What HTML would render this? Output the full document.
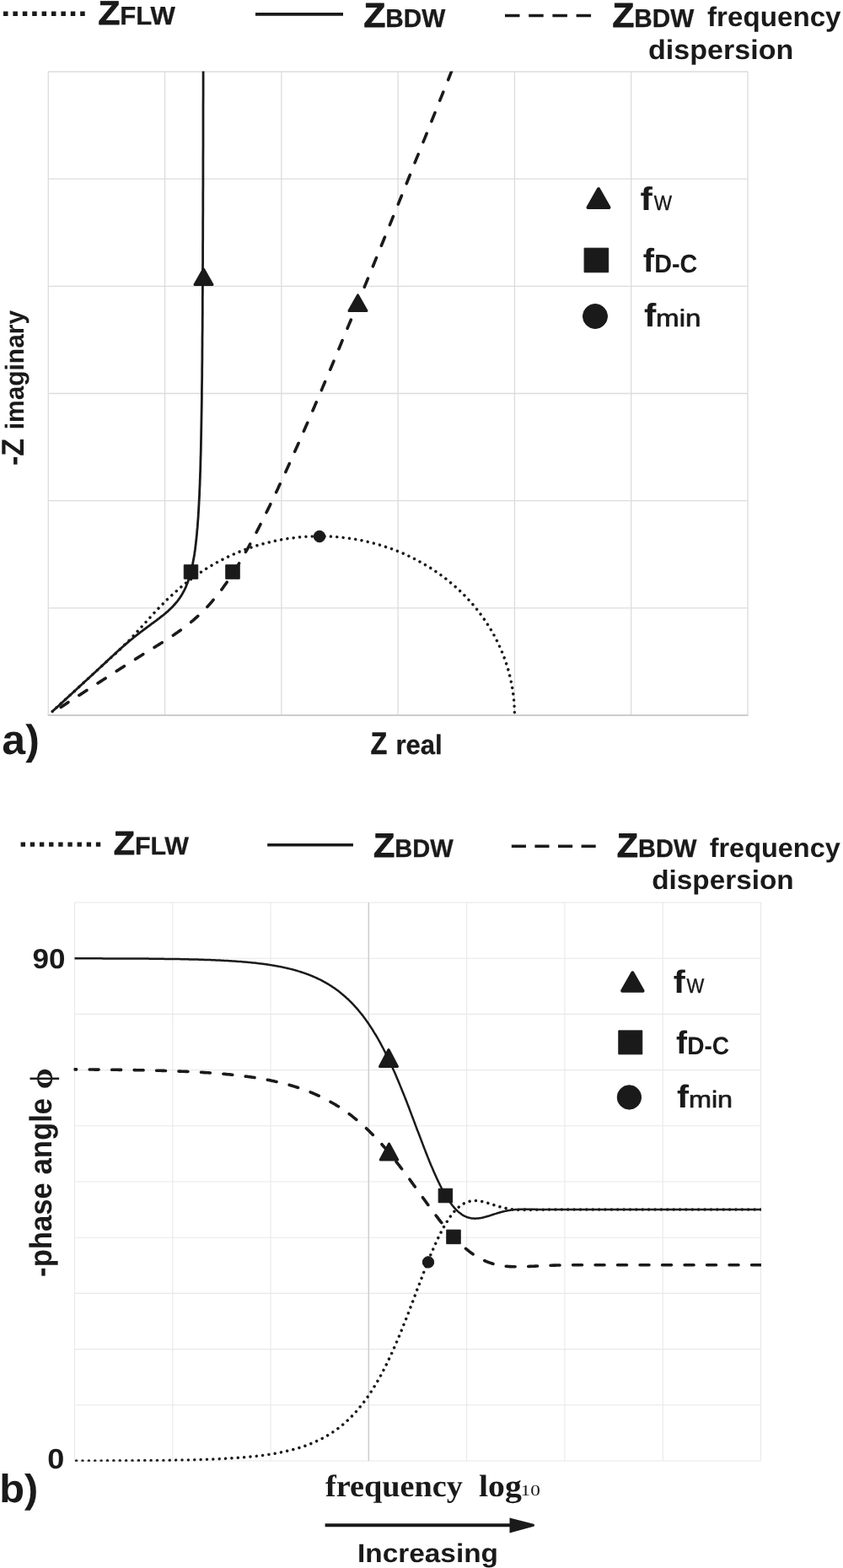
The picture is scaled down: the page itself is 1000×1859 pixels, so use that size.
<!DOCTYPE html>
<html><head><meta charset="utf-8"><title>Warburg impedance figure</title>
<style>
html,body{margin:0;padding:0;background:#fff;}
svg{display:block;}
text{font-family:"Liberation Sans",sans-serif;fill:#1a1a1a;text-rendering:geometricPrecision;}
.b{font-weight:bold;}
.s{font-family:"Liberation Serif",serif;}
.g{stroke:#dcdcdc;stroke-width:1.3;fill:none;}
.g2{stroke:#e8e8e8;stroke-width:1.1;fill:none;}
.sol{stroke:#1a1a1a;stroke-width:2.8;fill:none;stroke-linejoin:round;}
.das{stroke:#1a1a1a;stroke-width:3.6;fill:none;stroke-linecap:round;stroke-dasharray:10.9 15.6;stroke-linejoin:round;}
.dot{stroke:#1a1a1a;stroke-width:3.5;fill:none;stroke-linecap:round;stroke-dasharray:0.01 7.37;stroke-linejoin:round;}
.m{fill:#1a1a1a;stroke:#1a1a1a;stroke-linejoin:round;}
</style></head><body>
<svg width="1000" height="1859" viewBox="0 0 1000 1859">
<rect width="1000" height="1859" fill="#fff"/>
<defs>
<clipPath id="ca"><rect x="55.25" y="84.50" width="833.75" height="766.00"/></clipPath>
<clipPath id="cb"><rect x="87.50" y="1070.00" width="815.50" height="662.80"/></clipPath>
</defs>
<line x1="4" y1="16.25" x2="101" y2="16.25" stroke="#1a1a1a" stroke-width="5.4" stroke-dasharray="5.5 5.9"/>
<text class="b" x="116.64" y="28.80" font-size="40.14" textLength="25.85" lengthAdjust="spacingAndGlyphs" stroke="#1a1a1a" stroke-width="0.90" stroke-linejoin="round">Z</text>
<text class="b" x="142.28" y="28.80" font-size="30.36" textLength="65.58" lengthAdjust="spacingAndGlyphs" stroke="#1a1a1a" stroke-width="0.30" stroke-linejoin="round">FLW</text>
<line x1="303" y1="16.8" x2="407" y2="16.8" stroke="#1a1a1a" stroke-width="3.8"/>
<text class="b" x="431.64" y="31.70" font-size="40.87" textLength="25.85" lengthAdjust="spacingAndGlyphs" stroke="#1a1a1a" stroke-width="0.90" stroke-linejoin="round">Z</text>
<text class="b" x="457.37" y="31.70" font-size="30.43" textLength="71.00" lengthAdjust="spacingAndGlyphs" stroke="#1a1a1a" stroke-width="0.30" stroke-linejoin="round">BDW</text>
<line x1="599" y1="18.4" x2="702" y2="18.4" stroke="#1a1a1a" stroke-width="3.5" stroke-dasharray="17.5 10.7"/>
<text class="b" x="726.64" y="31.70" font-size="40.87" textLength="25.85" lengthAdjust="spacingAndGlyphs" stroke="#1a1a1a" stroke-width="0.90" stroke-linejoin="round">Z</text>
<text class="b" x="752.37" y="31.70" font-size="30.43" textLength="71.00" lengthAdjust="spacingAndGlyphs" stroke="#1a1a1a" stroke-width="0.30" stroke-linejoin="round">BDW</text>
<text class="b" x="839.00" y="31.47" font-size="32.51" textLength="158.54" lengthAdjust="spacingAndGlyphs">frequency</text>
<text class="b" x="769.04" y="70.22" font-size="32.30" textLength="172.23" lengthAdjust="spacingAndGlyphs">dispersion</text>
<line class="g" x1="57.25" y1="85.00" x2="57.25" y2="848.00"/>
<line class="g" x1="195.54" y1="85.00" x2="195.54" y2="848.00"/>
<line class="g" x1="333.83" y1="85.00" x2="333.83" y2="848.00"/>
<line class="g" x1="472.12" y1="85.00" x2="472.12" y2="848.00"/>
<line class="g" x1="610.42" y1="85.00" x2="610.42" y2="848.00"/>
<line class="g" x1="748.71" y1="85.00" x2="748.71" y2="848.00"/>
<line class="g" x1="887.00" y1="85.00" x2="887.00" y2="848.00"/>
<line class="g" x1="57.25" y1="85.00" x2="887.00" y2="85.00"/>
<line class="g" x1="57.25" y1="212.17" x2="887.00" y2="212.17"/>
<line class="g" x1="57.25" y1="339.33" x2="887.00" y2="339.33"/>
<line class="g" x1="57.25" y1="466.50" x2="887.00" y2="466.50"/>
<line class="g" x1="57.25" y1="593.67" x2="887.00" y2="593.67"/>
<line class="g" x1="57.25" y1="720.83" x2="887.00" y2="720.83"/>
<line x1="56.65" y1="848.00" x2="887.60" y2="848.00" stroke="#cdcdcd" stroke-width="1.8"/>
<g clip-path="url(#ca)">
<path class="dot" d="M62.1,843.5 L62.2,843.5 L62.2,843.4 L62.3,843.4 L62.3,843.4 L62.3,843.3 L62.4,843.3 L62.4,843.2 L62.5,843.2 L62.5,843.1 L62.6,843.1 L62.6,843.1 L62.7,843.0 L62.7,843.0 L62.8,842.9 L62.8,842.9 L62.9,842.8 L62.9,842.8 L63.0,842.7 L63.0,842.7 L63.1,842.6 L63.1,842.6 L63.2,842.5 L63.2,842.5 L63.3,842.4 L63.3,842.4 L63.4,842.3 L63.5,842.3 L63.5,842.2 L63.6,842.2 L63.6,842.1 L63.7,842.1 L63.7,842.0 L63.8,842.0 L63.9,841.9 L63.9,841.9 L64.0,841.8 L64.0,841.8 L64.1,841.7 L64.2,841.6 L64.2,841.6 L64.3,841.5 L64.4,841.5 L64.4,841.4 L64.5,841.3 L64.5,841.3 L64.6,841.2 L64.7,841.2 L64.7,841.1 L64.8,841.0 L64.9,841.0 L65.0,840.9 L65.0,840.9 L65.1,840.8 L65.2,840.7 L65.2,840.7 L65.3,840.6 L65.4,840.5 L65.5,840.5 L65.5,840.4 L65.6,840.3 L65.7,840.3 L65.8,840.2 L65.8,840.1 L65.9,840.0 L66.0,840.0 L66.1,839.9 L66.1,839.8 L66.2,839.7 L66.3,839.7 L66.4,839.6 L66.5,839.5 L66.6,839.4 L66.6,839.4 L66.7,839.3 L66.8,839.2 L66.9,839.1 L67.0,839.1 L67.1,839.0 L67.2,838.9 L67.2,838.8 L67.3,838.7 L67.4,838.6 L67.5,838.6 L67.6,838.5 L67.7,838.4 L67.8,838.3 L67.9,838.2 L68.0,838.1 L68.1,838.0 L68.2,837.9 L68.3,837.9 L68.4,837.8 L68.5,837.7 L68.6,837.6 L68.7,837.5 L68.8,837.4 L68.9,837.3 L69.0,837.2 L69.1,837.1 L69.2,837.0 L69.3,836.9 L69.4,836.8 L69.5,836.7 L69.7,836.6 L69.8,836.5 L69.9,836.4 L70.0,836.3 L70.1,836.2 L70.2,836.1 L70.3,836.0 L70.5,835.9 L70.6,835.7 L70.7,835.6 L70.8,835.5 L70.9,835.4 L71.1,835.3 L71.2,835.2 L71.3,835.1 L71.4,834.9 L71.6,834.8 L71.7,834.7 L71.8,834.6 L72.0,834.5 L72.1,834.4 L72.2,834.2 L72.4,834.1 L72.5,834.0 L72.6,833.9 L72.8,833.7 L72.9,833.6 L73.1,833.5 L73.2,833.3 L73.3,833.2 L73.5,833.1 L73.6,832.9 L73.8,832.8 L73.9,832.7 L74.1,832.5 L74.2,832.4 L74.4,832.2 L74.5,832.1 L74.7,832.0 L74.9,831.8 L75.0,831.7 L75.2,831.5 L75.3,831.4 L75.5,831.2 L75.7,831.1 L75.8,830.9 L76.0,830.8 L76.2,830.6 L76.3,830.4 L76.5,830.3 L76.7,830.1 L76.9,830.0 L77.0,829.8 L77.2,829.6 L77.4,829.5 L77.6,829.3 L77.8,829.1 L77.9,829.0 L78.1,828.8 L78.3,828.6 L78.5,828.4 L78.7,828.3 L78.9,828.1 L79.1,827.9 L79.3,827.7 L79.5,827.5 L79.7,827.4 L79.9,827.2 L80.1,827.0 L80.3,826.8 L80.5,826.6 L80.7,826.4 L80.9,826.2 L81.1,826.0 L81.4,825.8 L81.6,825.6 L81.8,825.4 L82.0,825.2 L82.2,825.0 L82.5,824.8 L82.7,824.6 L82.9,824.4 L83.2,824.2 L83.4,824.0 L83.6,823.7 L83.9,823.5 L84.1,823.3 L84.4,823.1 L84.6,822.9 L84.8,822.6 L85.1,822.4 L85.3,822.2 L85.6,821.9 L85.9,821.7 L86.1,821.5 L86.4,821.2 L86.6,821.0 L86.9,820.7 L87.2,820.5 L87.4,820.2 L87.7,820.0 L88.0,819.7 L88.3,819.5 L88.5,819.2 L88.8,819.0 L89.1,818.7 L89.4,818.4 L89.7,818.2 L90.0,817.9 L90.3,817.6 L90.6,817.4 L90.9,817.1 L91.2,816.8 L91.5,816.5 L91.8,816.2 L92.1,815.9 L92.4,815.7 L92.7,815.4 L93.1,815.1 L93.4,814.8 L93.7,814.5 L94.0,814.2 L94.4,813.9 L94.7,813.6 L95.0,813.2 L95.4,812.9 L95.7,812.6 L96.1,812.3 L96.4,812.0 L96.8,811.6 L97.1,811.3 L97.5,811.0 L97.9,810.7 L98.2,810.3 L98.6,810.0 L99.0,809.6 L99.3,809.3 L99.7,808.9 L100.1,808.6 L100.5,808.2 L100.9,807.9 L101.3,807.5 L101.7,807.1 L102.1,806.8 L102.5,806.4 L102.9,806.0 L103.3,805.6 L103.7,805.3 L104.1,804.9 L104.6,804.5 L105.0,804.1 L105.4,803.7 L105.9,803.3 L106.3,802.9 L106.7,802.5 L107.2,802.1 L107.6,801.7 L108.1,801.2 L108.6,800.8 L109.0,800.4 L109.5,800.0 L110.0,799.5 L110.4,799.1 L110.9,798.7 L111.4,798.2 L111.9,797.8 L112.4,797.3 L112.9,796.8 L113.4,796.4 L113.9,795.9 L114.4,795.4 L114.9,795.0 L115.4,794.5 L116.0,794.0 L116.5,793.5 L117.0,793.0 L117.6,792.5 L118.1,792.0 L118.7,791.5 L119.2,791.0 L119.8,790.5 L120.4,790.0 L120.9,789.5 L121.5,788.9 L122.1,788.4 L122.7,787.9 L123.3,787.3 L123.9,786.8 L124.5,786.2 L125.1,785.7 L125.7,785.1 L126.3,784.6 L126.9,784.0 L127.6,783.4 L128.2,782.9 L128.8,782.3 L129.5,781.7 L130.1,781.1 L130.8,780.5 L131.5,779.9 L132.1,779.3 L132.8,778.7 L133.5,778.1 L134.1,777.5 L134.8,776.8 L135.5,776.2 L136.2,775.6 L136.9,774.9 L137.6,774.3 L138.3,773.6 L139.0,773.0 L139.7,772.3 L140.5,771.6 L141.2,770.9 L141.9,770.2 L142.7,769.5 L143.4,768.8 L144.1,768.1 L144.9,767.4 L145.6,766.7 L146.4,765.9 L147.2,765.2 L147.9,764.4 L148.7,763.7 L149.5,762.9 L150.3,762.1 L151.1,761.3 L151.8,760.5 L152.6,759.7 L153.5,758.9 L154.3,758.0 L155.1,757.2 L155.9,756.3 L156.7,755.4 L157.6,754.6 L158.4,753.6 L159.3,752.7 L160.2,751.8 L161.0,750.8 L161.9,749.9 L162.8,748.9 L163.7,747.9 L164.6,746.9 L165.5,745.9 L166.5,744.8 L167.4,743.8 L168.4,742.7 L169.4,741.6 L170.4,740.5 L171.4,739.4 L172.4,738.3 L173.4,737.1 L174.5,735.9 L175.6,734.7 L176.7,733.5 L177.8,732.3 L178.9,731.0 L180.1,729.8 L181.2,728.5 L182.4,727.2 L183.7,725.9 L184.9,724.5 L186.2,723.2 L187.5,721.8 L188.8,720.4 L190.2,719.0 L191.5,717.6 L193.0,716.2 L194.4,714.7 L195.9,713.2 L197.4,711.7 L198.9,710.2 L200.5,708.7 L202.1,707.2 L203.8,705.7 L205.5,704.1 L207.2,702.5 L209.0,701.0 L210.8,699.4 L212.6,697.8 L214.5,696.2 L216.5,694.6 L218.5,692.9 L220.5,691.3 L222.6,689.7 L224.7,688.1 L226.9,686.4 L229.1,684.8 L231.3,683.1 L233.7,681.5 L236.0,679.9 L238.4,678.3 L240.9,676.6 L243.4,675.0 L246.0,673.4 L248.6,671.8 L251.3,670.2 L254.0,668.7 L256.8,667.1 L259.7,665.6 L262.6,664.1 L265.5,662.6 L268.5,661.1 L271.5,659.6 L274.6,658.2 L277.8,656.8 L281.0,655.4 L284.3,654.1 L287.6,652.8 L290.9,651.5 L294.3,650.3 L297.8,649.1 L301.3,648.0 L304.8,646.8 L308.4,645.8 L312.0,644.8 L315.7,643.8 L319.4,642.9 L323.1,642.0 L326.9,641.2 L330.7,640.4 L334.6,639.7 L338.4,639.0 L342.3,638.4 L346.3,637.9 L350.2,637.4 L354.2,637.0 L358.2,636.6 L362.2,636.3 L366.2,636.1 L370.2,635.9 L374.3,635.8 L378.3,635.8 L382.4,635.8 L386.4,635.9 L390.5,636.0 L394.5,636.2 L398.6,636.5 L402.6,636.9 L406.6,637.3 L410.6,637.8 L414.6,638.3 L418.6,638.9 L422.5,639.5 L426.5,640.3 L430.4,641.0 L434.2,641.9 L438.1,642.8 L441.9,643.7 L445.6,644.7 L449.4,645.8 L453.1,646.9 L456.7,648.1 L460.4,649.3 L463.9,650.5 L467.5,651.9 L470.9,653.2 L474.4,654.6 L477.8,656.0 L481.1,657.5 L484.4,659.0 L487.6,660.6 L490.8,662.1 L493.9,663.7 L497.0,665.4 L500.0,667.1 L503.0,668.8 L505.9,670.5 L508.8,672.2 L511.6,674.0 L514.3,675.8 L517.0,677.6 L519.6,679.4 L522.2,681.2 L524.7,683.1 L527.2,684.9 L529.6,686.8 L532.0,688.7 L534.3,690.6 L536.5,692.5 L538.7,694.4 L540.9,696.2 L542.9,698.1 L545.0,700.0 L547.0,701.9 L548.9,703.8 L550.8,705.7 L552.6,707.6 L554.4,709.5 L556.1,711.4 L557.8,713.2 L559.5,715.1 L561.1,716.9 L562.6,718.8 L564.2,720.6 L565.6,722.4 L567.1,724.2 L568.4,726.0 L569.8,727.8 L571.1,729.6 L572.4,731.3 L573.6,733.1 L574.8,734.8 L576.0,736.5 L577.1,738.2 L578.2,739.9 L579.2,741.5 L580.3,743.2 L581.3,744.8 L582.2,746.4 L583.2,748.0 L584.1,749.6 L584.9,751.1 L585.8,752.7 L586.6,754.2 L587.4,755.7 L588.2,757.2 L588.9,758.6 L589.7,760.1 L590.4,761.5 L591.0,762.9 L591.7,764.3 L592.3,765.7 L592.9,767.0 L593.5,768.4 L594.1,769.7 L594.7,771.0 L595.2,772.3 L595.7,773.5 L596.2,774.8 L596.7,776.0 L597.2,777.2 L597.6,778.4 L598.1,779.6 L598.5,780.7 L598.9,781.9 L599.3,783.0 L599.7,784.1 L600.1,785.2 L600.4,786.2 L600.8,787.3 L601.1,788.3 L601.4,789.4 L601.7,790.4 L602.0,791.3 L602.3,792.3 L602.6,793.3 L602.9,794.2 L603.1,795.1 L603.4,796.1 L603.6,797.0 L603.9,797.8 L604.1,798.7 L604.3,799.6 L604.5,800.4 L604.7,801.2 L604.9,802.0 L605.1,802.8 L605.3,803.6 L605.5,804.4 L605.7,805.2 L605.8,805.9 L606.0,806.6 L606.1,807.4 L606.3,808.1 L606.4,808.8 L606.6,809.5 L606.7,810.1 L606.8,810.8 L607.0,811.5 L607.1,812.1 L607.2,812.7 L607.3,813.3 L607.4,814.0 L607.5,814.6 L607.6,815.1 L607.7,815.7 L607.8,816.3 L607.9,816.8 L608.0,817.4 L608.1,817.9 L608.2,818.5 L608.2,819.0 L608.3,819.5 L608.4,820.0 L608.5,820.5 L608.5,821.0 L608.6,821.5 L608.7,821.9 L608.7,822.4 L608.8,822.8 L608.8,823.3 L608.9,823.7 L609.0,824.2 L609.0,824.6 L609.1,825.0 L609.1,825.4 L609.1,825.8 L609.2,826.2 L609.2,826.6 L609.3,827.0 L609.3,827.3 L609.4,827.7 L609.4,828.1 L609.4,828.4 L609.5,828.8 L609.5,829.1 L609.5,829.4 L609.6,829.8 L609.6,830.1 L609.6,830.4 L609.6,830.7 L609.7,831.0 L609.7,831.3 L609.7,831.6 L609.8,831.9 L609.8,832.2 L609.8,832.5 L609.8,832.8 L609.8,833.0 L609.9,833.3 L609.9,833.6 L609.9,833.8 L609.9,834.1 L609.9,834.3 L610.0,834.6 L610.0,834.8 L610.0,835.0 L610.0,835.3 L610.0,835.5 L610.0,835.7 L610.0,835.9 L610.1,836.1 L610.1,836.4 L610.1,836.6 L610.1,836.8 L610.1,837.0 L610.1,837.2 L610.1,837.4 L610.1,837.5 L610.1,837.7 L610.2,837.9 L610.2,838.1 L610.2,838.3 L610.2,838.4 L610.2,838.6 L610.2,838.8 L610.2,838.9 L610.2,839.1 L610.2,839.3 L610.2,839.4 L610.2,839.6 L610.2,839.7 L610.2,839.9 L610.3,840.0 L610.3,840.2 L610.3,840.3 L610.3,840.4 L610.3,840.6 L610.3,840.7 L610.3,840.8 L610.3,841.0 L610.3,841.1 L610.3,841.2 L610.3,841.3 L610.3,841.4 L610.3,841.6 L610.3,841.7 L610.3,841.8 L610.3,841.9 L610.3,842.0 L610.3,842.1 L610.3,842.2 L610.3,842.3 L610.3,842.4 L610.3,842.5 L610.3,842.6 L610.3,842.7 L610.3,842.8 L610.3,842.9 L610.4,843.0 L610.4,843.1 L610.4,843.2 L610.4,843.3 L610.4,843.3 L610.4,843.4 L610.4,843.5 L610.4,843.6 L610.4,843.7 L610.4,843.7 L610.4,843.8 L610.4,843.9 L610.4,844.0 L610.4,844.0 L610.4,844.1 L610.4,844.2 L610.4,844.2 L610.4,844.3 L610.4,844.4 L610.4,844.4 L610.4,844.5 L610.4,844.6 L610.4,844.6 L610.4,844.7 L610.4,844.7 L610.4,844.8 L610.4,844.9 L610.4,844.9 L610.4,845.0 L610.4,845.0 L610.4,845.1 L610.4,845.1 L610.4,845.2 L610.4,845.2 L610.4,845.3 L610.4,845.3 L610.4,845.4 L610.4,845.4 L610.4,845.5 L610.4,845.5 L610.4,845.6 L610.4,845.6 L610.4,845.6 L610.4,845.7 L610.4,845.7 L610.4,845.8 L610.4,845.8 L610.4,845.8 L610.4,845.9 L610.4,845.9 L610.4,846.0 L610.4,846.0 L610.4,846.0 L610.4,846.1 L610.4,846.1 L610.4,846.1 L610.4,846.2 L610.4,846.2 L610.4,846.2 L610.4,846.3 L610.4,846.3 L610.4,846.3 L610.4,846.4 L610.4,846.4 L610.4,846.4 L610.4,846.4 L610.4,846.5 L610.4,846.5 L610.4,846.5 L610.4,846.6 L610.4,846.6 L610.4,846.6 L610.4,846.6 L610.4,846.7 L610.4,846.7 L610.4,846.7 L610.4,846.7 L610.4,846.7 L610.4,846.8 L610.4,846.8 L610.4,846.8 L610.4,846.8 L610.4,846.9 L610.4,846.9 L610.4,846.9 L610.4,846.9 L610.4,846.9 L610.4,847.0 L610.4,847.0 L610.4,847.0 L610.4,847.0 L610.4,847.0 L610.4,847.0 L610.4,847.1 L610.4,847.1 L610.4,847.1 L610.4,847.1 L610.4,847.1 L610.4,847.1 L610.4,847.2 L610.4,847.2 L610.4,847.2 L610.4,847.2 L610.4,847.2 L610.4,847.2 L610.4,847.2 L610.4,847.3 L610.4,847.3 L610.4,847.3 L610.4,847.3 L610.4,847.3 L610.4,847.3 L610.4,847.3 L610.4,847.3 L610.4,847.4 L610.4,847.4 L610.4,847.4 L610.4,847.4 L610.4,847.4 L610.4,847.4 L610.4,847.4 L610.4,847.4 L610.4,847.4 L610.4,847.5 L610.4,847.5 L610.4,847.5 L610.4,847.5 L610.4,847.5 L610.4,847.5 L610.4,847.5 L610.4,847.5 L610.4,847.5 L610.4,847.5 L610.4,847.5 L610.4,847.5 L610.4,847.6 L610.4,847.6 L610.4,847.6 L610.4,847.6 L610.4,847.6 L610.4,847.6 L610.4,847.6 L610.4,847.6 L610.4,847.6 L610.4,847.6 L610.4,847.6 L610.4,847.6 L610.4,847.6 L610.4,847.6 L610.4,847.7 L610.4,847.7 L610.4,847.7 L610.4,847.7 L610.4,847.7 L610.4,847.7 L610.4,847.7 L610.4,847.7 L610.4,847.7 L610.4,847.7 L610.4,847.7 L610.4,847.7 L610.4,847.7 L610.4,847.7 L610.4,847.7 L610.4,847.7 L610.4,847.7 L610.4,847.7 L610.4,847.8 L610.4,847.8 L610.4,847.8 L610.4,847.8 L610.4,847.8 L610.4,847.8 L610.4,847.8 L610.4,847.8 L610.4,847.8 L610.4,847.8 L610.4,847.8 L610.4,847.8 L610.4,847.8 L610.4,847.8 L610.4,847.8 L610.4,847.8 L610.4,847.8 L610.4,847.8 L610.4,847.8 L610.4,847.8 L610.4,847.8 L610.4,847.8 L610.4,847.8 L610.4,847.8 L610.4,847.8 L610.4,847.8 L610.4,847.8 L610.4,847.8 L610.4,847.8 L610.4,847.9 L610.4,847.9 L610.4,847.9 L610.4,847.9 L610.4,847.9 L610.4,847.9 L610.4,847.9 L610.4,847.9 L610.4,847.9 L610.4,847.9 L610.4,847.9 L610.4,847.9 L610.4,847.9 L610.4,847.9 L610.4,847.9 L610.4,847.9 L610.4,847.9 L610.4,847.9 L610.4,847.9 L610.4,847.9"/>
<path class="das" d="M72.1,838.4 L72.2,838.4 L72.3,838.3 L72.4,838.2 L72.5,838.2 L72.6,838.1 L72.7,838.0 L72.8,837.9 L72.9,837.9 L73.0,837.8 L73.1,837.7 L73.3,837.7 L73.4,837.6 L73.5,837.5 L73.6,837.4 L73.7,837.4 L73.8,837.3 L73.9,837.2 L74.1,837.1 L74.2,837.1 L74.3,837.0 L74.4,836.9 L74.5,836.8 L74.7,836.8 L74.8,836.7 L74.9,836.6 L75.0,836.5 L75.2,836.4 L75.3,836.4 L75.4,836.3 L75.5,836.2 L75.7,836.1 L75.8,836.0 L75.9,835.9 L76.1,835.9 L76.2,835.8 L76.3,835.7 L76.5,835.6 L76.6,835.5 L76.7,835.4 L76.9,835.3 L77.0,835.2 L77.1,835.2 L77.3,835.1 L77.4,835.0 L77.6,834.9 L77.7,834.8 L77.8,834.7 L78.0,834.6 L78.1,834.5 L78.3,834.4 L78.4,834.3 L78.6,834.2 L78.7,834.1 L78.9,834.0 L79.0,833.9 L79.2,833.8 L79.3,833.7 L79.5,833.6 L79.7,833.5 L79.8,833.4 L80.0,833.3 L80.1,833.2 L80.3,833.1 L80.5,833.0 L80.6,832.9 L80.8,832.8 L80.9,832.7 L81.1,832.6 L81.3,832.5 L81.5,832.4 L81.6,832.3 L81.8,832.1 L82.0,832.0 L82.1,831.9 L82.3,831.8 L82.5,831.7 L82.7,831.6 L82.8,831.5 L83.0,831.4 L83.2,831.2 L83.4,831.1 L83.6,831.0 L83.8,830.9 L83.9,830.8 L84.1,830.6 L84.3,830.5 L84.5,830.4 L84.7,830.3 L84.9,830.1 L85.1,830.0 L85.3,829.9 L85.5,829.8 L85.7,829.6 L85.9,829.5 L86.1,829.4 L86.3,829.2 L86.5,829.1 L86.7,829.0 L86.9,828.8 L87.1,828.7 L87.3,828.6 L87.5,828.4 L87.7,828.3 L88.0,828.2 L88.2,828.0 L88.4,827.9 L88.6,827.7 L88.8,827.6 L89.1,827.5 L89.3,827.3 L89.5,827.2 L89.7,827.0 L90.0,826.9 L90.2,826.7 L90.4,826.6 L90.7,826.4 L90.9,826.3 L91.1,826.1 L91.4,826.0 L91.6,825.8 L91.8,825.7 L92.1,825.5 L92.3,825.3 L92.6,825.2 L92.8,825.0 L93.1,824.9 L93.3,824.7 L93.6,824.5 L93.8,824.4 L94.1,824.2 L94.4,824.0 L94.6,823.9 L94.9,823.7 L95.1,823.5 L95.4,823.4 L95.7,823.2 L95.9,823.0 L96.2,822.8 L96.5,822.7 L96.8,822.5 L97.0,822.3 L97.3,822.1 L97.6,821.9 L97.9,821.8 L98.2,821.6 L98.5,821.4 L98.8,821.2 L99.0,821.0 L99.3,820.8 L99.6,820.6 L99.9,820.4 L100.2,820.2 L100.5,820.0 L100.8,819.8 L101.1,819.6 L101.5,819.4 L101.8,819.2 L102.1,819.0 L102.4,818.8 L102.7,818.6 L103.0,818.4 L103.4,818.2 L103.7,818.0 L104.0,817.8 L104.3,817.6 L104.7,817.4 L105.0,817.2 L105.3,816.9 L105.7,816.7 L106.0,816.5 L106.4,816.3 L106.7,816.1 L107.0,815.8 L107.4,815.6 L107.8,815.4 L108.1,815.2 L108.5,814.9 L108.8,814.7 L109.2,814.5 L109.6,814.2 L109.9,814.0 L110.3,813.7 L110.7,813.5 L111.0,813.3 L111.4,813.0 L111.8,812.8 L112.2,812.5 L112.6,812.3 L113.0,812.0 L113.3,811.8 L113.7,811.5 L114.1,811.3 L114.5,811.0 L114.9,810.7 L115.3,810.5 L115.8,810.2 L116.2,809.9 L116.6,809.7 L117.0,809.4 L117.4,809.1 L117.8,808.9 L118.3,808.6 L118.7,808.3 L119.1,808.0 L119.6,807.8 L120.0,807.5 L120.4,807.2 L120.9,806.9 L121.3,806.6 L121.8,806.3 L122.2,806.0 L122.7,805.7 L123.2,805.4 L123.6,805.1 L124.1,804.8 L124.6,804.5 L125.0,804.2 L125.5,803.9 L126.0,803.6 L126.5,803.3 L127.0,803.0 L127.4,802.7 L127.9,802.3 L128.4,802.0 L128.9,801.7 L129.4,801.4 L129.9,801.0 L130.5,800.7 L131.0,800.4 L131.5,800.0 L132.0,799.7 L132.5,799.4 L133.1,799.0 L133.6,798.7 L134.1,798.3 L134.7,798.0 L135.2,797.6 L135.8,797.3 L136.3,796.9 L136.9,796.6 L137.5,796.2 L138.0,795.8 L138.6,795.5 L139.2,795.1 L139.7,794.7 L140.3,794.3 L140.9,794.0 L141.5,793.6 L142.1,793.2 L142.7,792.8 L143.3,792.4 L143.9,792.0 L144.5,791.7 L145.1,791.3 L145.8,790.9 L146.4,790.5 L147.0,790.1 L147.6,789.7 L148.3,789.2 L148.9,788.8 L149.6,788.4 L150.2,788.0 L150.9,787.6 L151.5,787.2 L152.2,786.7 L152.9,786.3 L153.6,785.9 L154.2,785.5 L154.9,785.0 L155.6,784.6 L156.3,784.1 L157.0,783.7 L157.7,783.3 L158.4,782.8 L159.2,782.4 L159.9,781.9 L160.6,781.5 L161.3,781.0 L162.1,780.5 L162.8,780.1 L163.6,779.6 L164.3,779.1 L165.1,778.7 L165.8,778.2 L166.6,777.7 L167.3,777.3 L168.1,776.8 L168.9,776.3 L169.7,775.8 L170.5,775.3 L171.3,774.8 L172.1,774.3 L172.9,773.8 L173.7,773.3 L174.5,772.8 L175.3,772.3 L176.1,771.8 L176.9,771.3 L177.8,770.8 L178.6,770.3 L179.4,769.8 L180.3,769.3 L181.1,768.7 L182.0,768.2 L182.8,767.7 L183.7,767.1 L184.6,766.6 L185.4,766.1 L186.3,765.5 L187.2,765.0 L188.1,764.4 L188.9,763.9 L189.8,763.3 L190.7,762.8 L191.6,762.2 L192.5,761.7 L193.4,761.1 L194.3,760.5 L195.2,759.9 L196.1,759.4 L197.0,758.8 L197.9,758.2 L198.9,757.6 L199.8,757.0 L200.7,756.4 L201.6,755.8 L202.5,755.2 L203.5,754.6 L204.4,753.9 L205.3,753.3 L206.3,752.7 L207.2,752.0 L208.2,751.4 L209.1,750.7 L210.0,750.1 L211.0,749.4 L211.9,748.7 L212.9,748.1 L213.8,747.4 L214.8,746.7 L215.8,746.0 L216.7,745.3 L217.7,744.6 L218.6,743.8 L219.6,743.1 L220.6,742.4 L221.5,741.6 L222.5,740.9 L223.4,740.1 L224.4,739.3 L225.4,738.5 L226.4,737.7 L227.3,736.9 L228.3,736.1 L229.3,735.3 L230.3,734.4 L231.2,733.6 L232.2,732.7 L233.2,731.8 L234.2,730.9 L235.2,730.0 L236.1,729.1 L237.1,728.2 L238.1,727.2 L239.1,726.3 L240.1,725.3 L241.1,724.3 L242.1,723.3 L243.1,722.3 L244.1,721.3 L245.1,720.2 L246.1,719.2 L247.1,718.1 L248.1,717.0 L249.1,715.9 L250.1,714.7 L251.1,713.6 L252.1,712.4 L253.1,711.2 L254.1,710.0 L255.2,708.8 L256.2,707.5 L257.2,706.3 L258.3,705.0 L259.3,703.7 L260.3,702.3 L261.4,701.0 L262.4,699.6 L263.5,698.2 L264.5,696.8 L265.6,695.3 L266.6,693.8 L267.7,692.4 L268.8,690.8 L269.8,689.3 L270.9,687.7 L272.0,686.1 L273.1,684.5 L274.2,682.8 L275.3,681.2 L276.4,679.5 L277.5,677.7 L278.6,676.0 L279.8,674.2 L280.9,672.3 L282.0,670.5 L283.2,668.6 L284.3,666.7 L285.5,664.8 L286.7,662.8 L287.9,660.8 L289.0,658.7 L290.2,656.6 L291.4,654.5 L292.6,652.4 L293.9,650.2 L295.1,648.0 L296.3,645.7 L297.6,643.5 L298.8,641.1 L300.1,638.8 L301.4,636.4 L302.7,633.9 L304.0,631.5 L305.3,628.9 L306.6,626.4 L307.9,623.8 L309.3,621.1 L310.7,618.5 L312.0,615.7 L313.4,613.0 L314.8,610.1 L316.2,607.3 L317.6,604.4 L319.1,601.4 L320.5,598.4 L322.0,595.4 L323.5,592.3 L325.0,589.2 L326.5,586.0 L328.0,582.8 L329.6,579.5 L331.1,576.1 L332.7,572.7 L334.3,569.3 L335.9,565.8 L337.6,562.3 L339.2,558.7 L340.9,555.0 L342.6,551.3 L344.3,547.5 L346.0,543.7 L347.7,539.8 L349.5,535.8 L351.3,531.8 L353.1,527.8 L354.9,523.6 L356.8,519.5 L358.6,515.2 L360.5,510.9 L362.4,506.5 L364.4,502.0 L366.3,497.5 L368.3,492.9 L370.3,488.3 L372.4,483.6 L374.4,478.8 L376.5,473.9 L378.6,469.0 L380.8,463.9 L382.9,458.9 L385.1,453.7 L387.3,448.5 L389.6,443.1 L391.9,437.7 L394.2,432.3 L396.5,426.7 L398.9,421.1 L401.3,415.3 L403.7,409.5 L406.1,403.6 L408.6,397.7 L411.1,391.6 L413.7,385.4 L416.3,379.2 L418.9,372.9 L421.6,366.4 L424.3,359.9 L427.0,353.3 L429.7,346.6 L432.5,339.8 L435.4,332.8 L438.2,325.8 L441.2,318.7 L444.1,311.5 L447.1,304.2 L450.1,296.7 L453.2,289.2 L456.3,281.5 L459.5,273.8 L462.7,265.9 L465.9,257.9 L469.2,249.8 L472.5,241.6 L475.9,233.3 L479.3,224.8 L482.8,216.2 L486.3,207.5 L489.8,198.7 L493.4,189.7 L497.1,180.6 L500.8,171.4 L504.6,162.1 L508.4,152.6 L512.2,143.0 L516.2,133.2 L520.1,123.3 L524.1,113.3 L528.2,103.1 L532.4,92.8 L536.5,82.3 L540.8,71.7 L545.1,60.9 L549.5,49.9 L553.9,38.8 L558.4,27.6 L562.9,16.2 L567.5,4.6 L572.2,-7.1 L577.0,-19.0 L581.8,-31.1 L586.6,-43.4 L591.6,-55.8"/>
<path class="sol" d="M62.1,843.5 L62.2,843.5 L62.2,843.4 L62.3,843.4 L62.3,843.4 L62.3,843.3 L62.4,843.3 L62.4,843.2 L62.5,843.2 L62.5,843.1 L62.6,843.1 L62.6,843.1 L62.7,843.0 L62.7,843.0 L62.8,842.9 L62.8,842.9 L62.9,842.8 L62.9,842.8 L63.0,842.7 L63.0,842.7 L63.1,842.6 L63.1,842.6 L63.2,842.5 L63.2,842.5 L63.3,842.4 L63.3,842.4 L63.4,842.3 L63.5,842.3 L63.5,842.2 L63.6,842.2 L63.6,842.1 L63.7,842.1 L63.7,842.0 L63.8,842.0 L63.9,841.9 L63.9,841.9 L64.0,841.8 L64.0,841.8 L64.1,841.7 L64.2,841.6 L64.2,841.6 L64.3,841.5 L64.4,841.5 L64.4,841.4 L64.5,841.3 L64.5,841.3 L64.6,841.2 L64.7,841.2 L64.7,841.1 L64.8,841.0 L64.9,841.0 L65.0,840.9 L65.0,840.9 L65.1,840.8 L65.2,840.7 L65.2,840.7 L65.3,840.6 L65.4,840.5 L65.5,840.5 L65.5,840.4 L65.6,840.3 L65.7,840.3 L65.8,840.2 L65.8,840.1 L65.9,840.0 L66.0,840.0 L66.1,839.9 L66.1,839.8 L66.2,839.7 L66.3,839.7 L66.4,839.6 L66.5,839.5 L66.6,839.4 L66.6,839.4 L66.7,839.3 L66.8,839.2 L66.9,839.1 L67.0,839.1 L67.1,839.0 L67.2,838.9 L67.2,838.8 L67.3,838.7 L67.4,838.6 L67.5,838.6 L67.6,838.5 L67.7,838.4 L67.8,838.3 L67.9,838.2 L68.0,838.1 L68.1,838.0 L68.2,837.9 L68.3,837.9 L68.4,837.8 L68.5,837.7 L68.6,837.6 L68.7,837.5 L68.8,837.4 L68.9,837.3 L69.0,837.2 L69.1,837.1 L69.2,837.0 L69.3,836.9 L69.4,836.8 L69.5,836.7 L69.7,836.6 L69.8,836.5 L69.9,836.4 L70.0,836.3 L70.1,836.2 L70.2,836.1 L70.3,836.0 L70.5,835.9 L70.6,835.7 L70.7,835.6 L70.8,835.5 L70.9,835.4 L71.1,835.3 L71.2,835.2 L71.3,835.1 L71.4,834.9 L71.6,834.8 L71.7,834.7 L71.8,834.6 L72.0,834.5 L72.1,834.4 L72.2,834.2 L72.4,834.1 L72.5,834.0 L72.6,833.9 L72.8,833.7 L72.9,833.6 L73.1,833.5 L73.2,833.3 L73.3,833.2 L73.5,833.1 L73.6,832.9 L73.8,832.8 L73.9,832.7 L74.1,832.5 L74.2,832.4 L74.4,832.2 L74.5,832.1 L74.7,832.0 L74.9,831.8 L75.0,831.7 L75.2,831.5 L75.3,831.4 L75.5,831.2 L75.7,831.1 L75.8,830.9 L76.0,830.8 L76.2,830.6 L76.3,830.4 L76.5,830.3 L76.7,830.1 L76.9,830.0 L77.0,829.8 L77.2,829.6 L77.4,829.5 L77.6,829.3 L77.8,829.1 L77.9,829.0 L78.1,828.8 L78.3,828.6 L78.5,828.4 L78.7,828.3 L78.9,828.1 L79.1,827.9 L79.3,827.7 L79.5,827.5 L79.7,827.4 L79.9,827.2 L80.1,827.0 L80.3,826.8 L80.5,826.6 L80.7,826.4 L80.9,826.2 L81.1,826.0 L81.4,825.8 L81.6,825.6 L81.8,825.4 L82.0,825.2 L82.2,825.0 L82.5,824.8 L82.7,824.6 L82.9,824.4 L83.2,824.2 L83.4,824.0 L83.6,823.7 L83.9,823.5 L84.1,823.3 L84.4,823.1 L84.6,822.9 L84.8,822.6 L85.1,822.4 L85.3,822.2 L85.6,821.9 L85.9,821.7 L86.1,821.5 L86.4,821.2 L86.6,821.0 L86.9,820.7 L87.2,820.5 L87.4,820.2 L87.7,820.0 L88.0,819.7 L88.3,819.5 L88.5,819.2 L88.8,819.0 L89.1,818.7 L89.4,818.4 L89.7,818.2 L90.0,817.9 L90.3,817.6 L90.6,817.4 L90.9,817.1 L91.2,816.8 L91.5,816.5 L91.8,816.2 L92.1,815.9 L92.4,815.7 L92.7,815.4 L93.1,815.1 L93.4,814.8 L93.7,814.5 L94.0,814.2 L94.4,813.9 L94.7,813.6 L95.0,813.2 L95.4,812.9 L95.7,812.6 L96.1,812.3 L96.4,812.0 L96.8,811.6 L97.1,811.3 L97.5,811.0 L97.9,810.7 L98.2,810.3 L98.6,810.0 L99.0,809.6 L99.3,809.3 L99.7,808.9 L100.1,808.6 L100.5,808.2 L100.9,807.9 L101.3,807.5 L101.7,807.1 L102.1,806.8 L102.5,806.4 L102.9,806.0 L103.3,805.6 L103.7,805.3 L104.1,804.9 L104.6,804.5 L105.0,804.1 L105.4,803.7 L105.9,803.3 L106.3,802.9 L106.7,802.5 L107.2,802.1 L107.6,801.7 L108.1,801.2 L108.6,800.8 L109.0,800.4 L109.5,800.0 L110.0,799.5 L110.4,799.1 L110.9,798.7 L111.4,798.2 L111.9,797.8 L112.4,797.3 L112.9,796.9 L113.4,796.4 L113.9,795.9 L114.4,795.5 L114.9,795.0 L115.4,794.5 L115.9,794.0 L116.5,793.5 L117.0,793.0 L117.5,792.6 L118.1,792.0 L118.6,791.5 L119.2,791.0 L119.7,790.5 L120.3,790.0 L120.9,789.5 L121.4,788.9 L122.0,788.4 L122.6,787.9 L123.2,787.3 L123.8,786.8 L124.4,786.2 L125.0,785.6 L125.6,785.1 L126.2,784.5 L126.8,783.9 L127.5,783.3 L128.1,782.7 L128.7,782.2 L129.4,781.5 L130.0,780.9 L130.7,780.3 L131.4,779.7 L132.0,779.1 L132.7,778.4 L133.4,777.8 L134.1,777.2 L134.8,776.5 L135.5,775.9 L136.2,775.2 L137.0,774.5 L137.7,773.9 L138.4,773.2 L139.2,772.5 L140.0,771.8 L140.7,771.1 L141.5,770.4 L142.3,769.7 L143.1,769.0 L143.9,768.3 L144.7,767.5 L145.5,766.8 L146.4,766.1 L147.2,765.3 L148.1,764.6 L148.9,763.9 L149.8,763.1 L150.7,762.4 L151.6,761.6 L152.5,760.8 L153.4,760.1 L154.3,759.3 L155.3,758.5 L156.2,757.8 L157.2,757.0 L158.1,756.2 L159.1,755.4 L160.1,754.7 L161.0,753.9 L162.0,753.1 L163.0,752.3 L164.0,751.5 L165.1,750.8 L166.1,750.0 L167.1,749.2 L168.2,748.4 L169.2,747.6 L170.2,746.8 L171.3,746.0 L172.3,745.3 L173.4,744.5 L174.5,743.7 L175.5,742.9 L176.6,742.1 L177.7,741.3 L178.8,740.5 L179.8,739.7 L180.9,738.9 L182.0,738.2 L183.0,737.4 L184.1,736.6 L185.2,735.8 L186.2,735.0 L187.3,734.2 L188.4,733.4 L189.4,732.6 L190.5,731.7 L191.5,730.9 L192.5,730.1 L193.6,729.3 L194.6,728.5 L195.6,727.6 L196.6,726.8 L197.6,725.9 L198.6,725.1 L199.6,724.2 L200.5,723.3 L201.5,722.4 L202.4,721.5 L203.4,720.6 L204.3,719.7 L205.2,718.7 L206.1,717.8 L207.0,716.8 L207.9,715.8 L208.7,714.8 L209.6,713.8 L210.4,712.8 L211.2,711.7 L212.0,710.6 L212.8,709.5 L213.6,708.4 L214.3,707.3 L215.1,706.1 L215.8,704.9 L216.5,703.7 L217.2,702.4 L217.9,701.1 L218.6,699.8 L219.2,698.5 L219.9,697.1 L220.5,695.7 L221.1,694.2 L221.7,692.8 L222.3,691.3 L222.9,689.7 L223.5,688.1 L224.0,686.5 L224.5,684.8 L225.0,683.1 L225.6,681.4 L226.0,679.6 L226.5,677.8 L227.0,675.9 L227.4,674.0 L227.9,672.0 L228.3,670.0 L228.7,667.9 L229.1,665.8 L229.5,663.6 L229.9,661.4 L230.3,659.2 L230.7,656.8 L231.0,654.5 L231.4,652.0 L231.7,649.5 L232.0,647.0 L232.3,644.4 L232.6,641.7 L232.9,639.0 L233.2,636.2 L233.5,633.3 L233.7,630.4 L234.0,627.4 L234.3,624.4 L234.5,621.2 L234.7,618.1 L235.0,614.8 L235.2,611.5 L235.4,608.1 L235.6,604.6 L235.8,601.0 L236.0,597.4 L236.2,593.7 L236.4,589.9 L236.6,586.0 L236.7,582.1 L236.9,578.0 L237.1,573.9 L237.2,569.7 L237.4,565.4 L237.5,561.0 L237.7,556.5 L237.8,551.9 L237.9,547.3 L238.0,542.5 L238.2,537.7 L238.3,532.7 L238.4,527.6 L238.5,522.5 L238.6,517.2 L238.7,511.9 L238.8,506.4 L238.9,500.8 L239.0,495.1 L239.1,489.3 L239.2,483.4 L239.3,477.3 L239.4,471.1 L239.4,464.9 L239.5,458.5 L239.6,451.9 L239.7,445.3 L239.7,438.5 L239.8,431.6 L239.9,424.5 L239.9,417.3 L240.0,410.0 L240.0,402.5 L240.1,394.9 L240.2,387.2 L240.2,379.2 L240.3,371.2 L240.3,363.0 L240.3,354.6 L240.4,346.1 L240.4,337.4 L240.5,328.5 L240.5,319.5 L240.6,310.3 L240.6,301.0 L240.6,291.4 L240.7,281.7 L240.7,271.8 L240.7,261.7 L240.8,251.4 L240.8,240.9 L240.8,230.3 L240.9,219.4 L240.9,208.3 L240.9,197.1 L240.9,185.6 L241.0,173.9 L241.0,162.0 L241.0,149.8 L241.0,137.4 L241.0,124.9 L241.1,112.0 L241.1,99.0 L241.1,85.7 L241.1,72.1 L241.1,58.3 L241.2,44.2 L241.2,29.9 L241.2,15.3 L241.2,0.5 L241.2,-14.6 L241.2,-30.1 L241.3,-45.7 L241.3,-61.7"/>
</g>
<path class="m" stroke-width="3.00" d="M241.50,319.00 L252.00,337.50 L231.00,337.50 Z"/>
<path class="m" stroke-width="3.00" d="M424.50,349.90 L435.00,368.40 L414.00,368.40 Z"/>
<rect class="m" stroke="none" x="218.25" y="669.75" width="16.50" height="16.50"/>
<rect class="m" stroke="none" x="267.75" y="669.75" width="16.50" height="16.50"/>
<circle class="m" stroke="none" cx="379.00" cy="636.00" r="6.80"/>
<path class="m" stroke-width="4.00" d="M710.00,224.00 L722.50,246.00 L697.50,246.00 Z"/>
<rect class="m" stroke="none" x="693.10" y="294.20" width="28.60" height="28.60"/>
<circle class="m" stroke="none" cx="706.00" cy="375.00" r="14.50"/>
<text class="b" x="759.45" y="248.51" font-size="38.77" textLength="14.36" lengthAdjust="spacingAndGlyphs">f</text>
<text x="775.70" y="248.70" font-size="24.78" textLength="21.27" lengthAdjust="spacingAndGlyphs" stroke="#1a1a1a" stroke-width="0.40" stroke-linejoin="round">W</text>
<text class="b" x="762.70" y="322.21" font-size="38.90" textLength="13.32" lengthAdjust="spacingAndGlyphs">f</text>
<text class="b" x="776.23" y="322.50" font-size="30.42" textLength="51.05" lengthAdjust="spacingAndGlyphs">D-C</text>
<text class="b" x="763.95" y="387.21" font-size="38.63" textLength="14.36" lengthAdjust="spacingAndGlyphs">f</text>
<text x="778.05" y="387.26" font-size="28.49" textLength="53.38" lengthAdjust="spacingAndGlyphs" stroke="#1a1a1a" stroke-width="0.70" stroke-linejoin="round">min</text>
<text class="b" x="28.50" y="552.09" transform="rotate(-90 28.50 552.09)" font-size="37.39" textLength="32.17" lengthAdjust="spacingAndGlyphs">-Z</text>
<text class="b" x="27.77" y="509.24" transform="rotate(-90 27.77 509.24)" font-size="30.85" textLength="141.28" lengthAdjust="spacingAndGlyphs">imaginary</text>
<text class="b" x="439.81" y="894.40" font-size="37.10" textLength="19.42" lengthAdjust="spacingAndGlyphs" stroke="#1a1a1a" stroke-width="0.70" stroke-linejoin="round">Z</text>
<text class="b" x="469.38" y="894.48" font-size="32.11" textLength="55.33" lengthAdjust="spacingAndGlyphs" stroke="#1a1a1a" stroke-width="0.30" stroke-linejoin="round">real</text>
<text class="b" x="2.35" y="894.22" font-size="49.41" textLength="44.45" lengthAdjust="spacingAndGlyphs">a)</text>
<g transform="translate(20.7 985.3) scale(0.9785)">
<line x1="4" y1="16.25" x2="101" y2="16.25" stroke="#1a1a1a" stroke-width="5.4" stroke-dasharray="5.5 5.9"/>
<text class="b" x="116.64" y="28.80" font-size="40.14" textLength="25.85" lengthAdjust="spacingAndGlyphs" stroke="#1a1a1a" stroke-width="0.90" stroke-linejoin="round">Z</text>
<text class="b" x="142.28" y="28.80" font-size="30.36" textLength="65.58" lengthAdjust="spacingAndGlyphs" stroke="#1a1a1a" stroke-width="0.30" stroke-linejoin="round">FLW</text>
<line x1="303" y1="16.8" x2="407" y2="16.8" stroke="#1a1a1a" stroke-width="3.8"/>
<text class="b" x="431.64" y="31.70" font-size="40.87" textLength="25.85" lengthAdjust="spacingAndGlyphs" stroke="#1a1a1a" stroke-width="0.90" stroke-linejoin="round">Z</text>
<text class="b" x="457.37" y="31.70" font-size="30.43" textLength="71.00" lengthAdjust="spacingAndGlyphs" stroke="#1a1a1a" stroke-width="0.30" stroke-linejoin="round">BDW</text>
<line x1="599" y1="18.4" x2="702" y2="18.4" stroke="#1a1a1a" stroke-width="3.5" stroke-dasharray="17.5 10.7"/>
<text class="b" x="726.64" y="31.70" font-size="40.87" textLength="25.85" lengthAdjust="spacingAndGlyphs" stroke="#1a1a1a" stroke-width="0.90" stroke-linejoin="round">Z</text>
<text class="b" x="752.37" y="31.70" font-size="30.43" textLength="71.00" lengthAdjust="spacingAndGlyphs" stroke="#1a1a1a" stroke-width="0.30" stroke-linejoin="round">BDW</text>
<text class="b" x="839.00" y="31.47" font-size="32.51" textLength="158.54" lengthAdjust="spacingAndGlyphs">frequency</text>
<text class="b" x="769.04" y="70.22" font-size="32.30" textLength="172.23" lengthAdjust="spacingAndGlyphs">dispersion</text>
</g>
<line class="g2" x1="88.50" y1="1070.00" x2="88.50" y2="1732.00"/>
<line class="g2" x1="204.79" y1="1070.00" x2="204.79" y2="1732.00"/>
<line class="g2" x1="321.07" y1="1070.00" x2="321.07" y2="1732.00"/>
<line class="g2" x1="437.36" y1="1070.00" x2="437.36" y2="1732.00"/>
<line class="g2" x1="553.64" y1="1070.00" x2="553.64" y2="1732.00"/>
<line class="g2" x1="669.93" y1="1070.00" x2="669.93" y2="1732.00"/>
<line class="g2" x1="786.21" y1="1070.00" x2="786.21" y2="1732.00"/>
<line class="g2" x1="902.50" y1="1070.00" x2="902.50" y2="1732.00"/>
<line class="g2" x1="88.50" y1="1070.00" x2="902.50" y2="1070.00"/>
<line class="g2" x1="88.50" y1="1136.20" x2="902.50" y2="1136.20"/>
<line class="g2" x1="88.50" y1="1202.40" x2="902.50" y2="1202.40"/>
<line class="g2" x1="88.50" y1="1268.60" x2="902.50" y2="1268.60"/>
<line class="g2" x1="88.50" y1="1334.80" x2="902.50" y2="1334.80"/>
<line class="g2" x1="88.50" y1="1401.00" x2="902.50" y2="1401.00"/>
<line class="g2" x1="88.50" y1="1467.20" x2="902.50" y2="1467.20"/>
<line class="g2" x1="88.50" y1="1533.40" x2="902.50" y2="1533.40"/>
<line class="g2" x1="88.50" y1="1599.60" x2="902.50" y2="1599.60"/>
<line class="g2" x1="88.50" y1="1665.80" x2="902.50" y2="1665.80"/>
<line class="g2" x1="88.50" y1="1732.00" x2="902.50" y2="1732.00"/>
<line x1="437.36" y1="1070.00" x2="437.36" y2="1732.00" stroke="#cdcdcd" stroke-width="1.4"/>
<g clip-path="url(#cb)">
<path class="dot" d="M902.5,1434.1 L901.6,1434.1 L900.7,1434.1 L899.8,1434.1 L898.9,1434.1 L898.0,1434.1 L897.1,1434.1 L896.2,1434.1 L895.3,1434.1 L894.4,1434.1 L893.4,1434.1 L892.5,1434.1 L891.6,1434.1 L890.7,1434.1 L889.8,1434.1 L888.9,1434.1 L888.0,1434.1 L887.1,1434.1 L886.2,1434.1 L885.3,1434.1 L884.4,1434.1 L883.5,1434.1 L882.6,1434.1 L881.7,1434.1 L880.8,1434.1 L879.9,1434.1 L879.0,1434.1 L878.1,1434.1 L877.1,1434.1 L876.2,1434.1 L875.3,1434.1 L874.4,1434.1 L873.5,1434.1 L872.6,1434.1 L871.7,1434.1 L870.8,1434.1 L869.9,1434.1 L869.0,1434.1 L868.1,1434.1 L867.2,1434.1 L866.3,1434.1 L865.4,1434.1 L864.5,1434.1 L863.6,1434.1 L862.7,1434.1 L861.8,1434.1 L860.8,1434.1 L859.9,1434.1 L859.0,1434.1 L858.1,1434.1 L857.2,1434.1 L856.3,1434.1 L855.4,1434.1 L854.5,1434.1 L853.6,1434.1 L852.7,1434.1 L851.8,1434.1 L850.9,1434.1 L850.0,1434.1 L849.1,1434.1 L848.2,1434.1 L847.3,1434.1 L846.4,1434.1 L845.5,1434.1 L844.6,1434.1 L843.6,1434.1 L842.7,1434.1 L841.8,1434.1 L840.9,1434.1 L840.0,1434.1 L839.1,1434.1 L838.2,1434.1 L837.3,1434.1 L836.4,1434.1 L835.5,1434.1 L834.6,1434.1 L833.7,1434.1 L832.8,1434.1 L831.9,1434.1 L831.0,1434.1 L830.1,1434.1 L829.2,1434.1 L828.3,1434.1 L827.3,1434.1 L826.4,1434.1 L825.5,1434.1 L824.6,1434.1 L823.7,1434.1 L822.8,1434.1 L821.9,1434.1 L821.0,1434.1 L820.1,1434.1 L819.2,1434.1 L818.3,1434.1 L817.4,1434.1 L816.5,1434.1 L815.6,1434.1 L814.7,1434.1 L813.8,1434.1 L812.9,1434.1 L812.0,1434.1 L811.0,1434.1 L810.1,1434.1 L809.2,1434.1 L808.3,1434.1 L807.4,1434.1 L806.5,1434.1 L805.6,1434.1 L804.7,1434.1 L803.8,1434.1 L802.9,1434.1 L802.0,1434.1 L801.1,1434.1 L800.2,1434.1 L799.3,1434.1 L798.4,1434.1 L797.5,1434.1 L796.6,1434.1 L795.7,1434.1 L794.8,1434.1 L793.8,1434.1 L792.9,1434.1 L792.0,1434.1 L791.1,1434.1 L790.2,1434.1 L789.3,1434.1 L788.4,1434.1 L787.5,1434.1 L786.6,1434.1 L785.7,1434.1 L784.8,1434.1 L783.9,1434.1 L783.0,1434.1 L782.1,1434.1 L781.2,1434.1 L780.3,1434.1 L779.4,1434.1 L778.5,1434.1 L777.5,1434.1 L776.6,1434.1 L775.7,1434.1 L774.8,1434.1 L773.9,1434.1 L773.0,1434.1 L772.1,1434.1 L771.2,1434.1 L770.3,1434.1 L769.4,1434.1 L768.5,1434.1 L767.6,1434.1 L766.7,1434.1 L765.8,1434.1 L764.9,1434.1 L764.0,1434.1 L763.1,1434.1 L762.2,1434.1 L761.2,1434.1 L760.3,1434.1 L759.4,1434.1 L758.5,1434.1 L757.6,1434.1 L756.7,1434.1 L755.8,1434.1 L754.9,1434.1 L754.0,1434.1 L753.1,1434.1 L752.2,1434.1 L751.3,1434.1 L750.4,1434.1 L749.5,1434.1 L748.6,1434.1 L747.7,1434.1 L746.8,1434.1 L745.9,1434.1 L745.0,1434.1 L744.0,1434.1 L743.1,1434.1 L742.2,1434.1 L741.3,1434.1 L740.4,1434.1 L739.5,1434.1 L738.6,1434.1 L737.7,1434.1 L736.8,1434.1 L735.9,1434.1 L735.0,1434.1 L734.1,1434.1 L733.2,1434.1 L732.3,1434.1 L731.4,1434.1 L730.5,1434.1 L729.6,1434.1 L728.7,1434.1 L727.7,1434.1 L726.8,1434.1 L725.9,1434.1 L725.0,1434.1 L724.1,1434.1 L723.2,1434.1 L722.3,1434.1 L721.4,1434.1 L720.5,1434.1 L719.6,1434.1 L718.7,1434.1 L717.8,1434.1 L716.9,1434.1 L716.0,1434.1 L715.1,1434.1 L714.2,1434.1 L713.3,1434.1 L712.4,1434.1 L711.4,1434.1 L710.5,1434.1 L709.6,1434.1 L708.7,1434.1 L707.8,1434.1 L706.9,1434.1 L706.0,1434.1 L705.1,1434.1 L704.2,1434.1 L703.3,1434.1 L702.4,1434.1 L701.5,1434.1 L700.6,1434.1 L699.7,1434.1 L698.8,1434.1 L697.9,1434.1 L697.0,1434.1 L696.1,1434.1 L695.2,1434.1 L694.2,1434.1 L693.3,1434.1 L692.4,1434.1 L691.5,1434.1 L690.6,1434.1 L689.7,1434.1 L688.8,1434.1 L687.9,1434.1 L687.0,1434.1 L686.1,1434.1 L685.2,1434.1 L684.3,1434.1 L683.4,1434.1 L682.5,1434.1 L681.6,1434.1 L680.7,1434.1 L679.8,1434.1 L678.9,1434.1 L677.9,1434.1 L677.0,1434.1 L676.1,1434.1 L675.2,1434.1 L674.3,1434.1 L673.4,1434.1 L672.5,1434.1 L671.6,1434.1 L670.7,1434.1 L669.8,1434.1 L668.9,1434.1 L668.0,1434.1 L667.1,1434.1 L666.2,1434.1 L665.3,1434.1 L664.4,1434.1 L663.5,1434.1 L662.6,1434.1 L661.7,1434.1 L660.7,1434.1 L659.8,1434.1 L658.9,1434.1 L658.0,1434.1 L657.1,1434.1 L656.2,1434.1 L655.3,1434.1 L654.4,1434.1 L653.5,1434.1 L652.6,1434.1 L651.7,1434.1 L650.8,1434.1 L649.9,1434.1 L649.0,1434.1 L648.1,1434.1 L647.2,1434.1 L646.3,1434.1 L645.4,1434.2 L644.4,1434.2 L643.5,1434.2 L642.6,1434.2 L641.7,1434.2 L640.8,1434.2 L639.9,1434.2 L639.0,1434.3 L638.1,1434.3 L637.2,1434.3 L636.3,1434.3 L635.4,1434.3 L634.5,1434.4 L633.6,1434.4 L632.7,1434.4 L631.8,1434.4 L630.9,1434.4 L630.0,1434.5 L629.1,1434.5 L628.1,1434.5 L627.2,1434.5 L626.3,1434.5 L625.4,1434.5 L624.5,1434.5 L623.6,1434.6 L622.7,1434.6 L621.8,1434.6 L620.9,1434.5 L620.0,1434.5 L619.1,1434.5 L618.2,1434.5 L617.3,1434.5 L616.4,1434.4 L615.5,1434.4 L614.6,1434.4 L613.7,1434.3 L612.8,1434.2 L611.9,1434.2 L610.9,1434.1 L610.0,1434.0 L609.1,1433.9 L608.2,1433.8 L607.3,1433.7 L606.4,1433.6 L605.5,1433.5 L604.6,1433.3 L603.7,1433.2 L602.8,1433.0 L601.9,1432.9 L601.0,1432.7 L600.1,1432.5 L599.2,1432.3 L598.3,1432.1 L597.4,1431.9 L596.5,1431.7 L595.6,1431.4 L594.6,1431.2 L593.7,1431.0 L592.8,1430.7 L591.9,1430.4 L591.0,1430.2 L590.1,1429.9 L589.2,1429.6 L588.3,1429.3 L587.4,1429.1 L586.5,1428.8 L585.6,1428.5 L584.7,1428.2 L583.8,1427.9 L582.9,1427.6 L582.0,1427.3 L581.1,1427.0 L580.2,1426.7 L579.3,1426.5 L578.3,1426.2 L577.4,1425.9 L576.5,1425.7 L575.6,1425.4 L574.7,1425.2 L573.8,1424.9 L572.9,1424.7 L572.0,1424.5 L571.1,1424.3 L570.2,1424.2 L569.3,1424.0 L568.4,1423.9 L567.5,1423.8 L566.6,1423.7 L565.7,1423.6 L564.8,1423.6 L563.9,1423.5 L563.0,1423.5 L562.1,1423.6 L561.1,1423.6 L560.2,1423.7 L559.3,1423.8 L558.4,1424.0 L557.5,1424.2 L556.6,1424.4 L555.7,1424.6 L554.8,1424.9 L553.9,1425.2 L553.0,1425.6 L552.1,1426.0 L551.2,1426.4 L550.3,1426.9 L549.4,1427.4 L548.5,1427.9 L547.6,1428.5 L546.7,1429.2 L545.8,1429.9 L544.8,1430.6 L543.9,1431.3 L543.0,1432.1 L542.1,1433.0 L541.2,1433.9 L540.3,1434.8 L539.4,1435.8 L538.5,1436.8 L537.6,1437.9 L536.7,1439.0 L535.8,1440.2 L534.9,1441.4 L534.0,1442.6 L533.1,1443.9 L532.2,1445.3 L531.3,1446.7 L530.4,1448.1 L529.5,1449.5 L528.5,1451.1 L527.6,1452.6 L526.7,1454.2 L525.8,1455.8 L524.9,1457.5 L524.0,1459.2 L523.1,1461.0 L522.2,1462.7 L521.3,1464.6 L520.4,1466.4 L519.5,1468.3 L518.6,1470.2 L517.7,1472.2 L516.8,1474.2 L515.9,1476.2 L515.0,1478.3 L514.1,1480.3 L513.2,1482.4 L512.3,1484.6 L511.3,1486.7 L510.4,1488.9 L509.5,1491.1 L508.6,1493.4 L507.7,1495.6 L506.8,1497.9 L505.9,1500.2 L505.0,1502.5 L504.1,1504.8 L503.2,1507.1 L502.3,1509.5 L501.4,1511.8 L500.5,1514.2 L499.6,1516.6 L498.7,1518.9 L497.8,1521.3 L496.9,1523.7 L496.0,1526.1 L495.0,1528.5 L494.1,1530.9 L493.2,1533.3 L492.3,1535.7 L491.4,1538.2 L490.5,1540.6 L489.6,1543.0 L488.7,1545.3 L487.8,1547.7 L486.9,1550.1 L486.0,1552.5 L485.1,1554.9 L484.2,1557.2 L483.3,1559.6 L482.4,1561.9 L481.5,1564.2 L480.6,1566.5 L479.7,1568.8 L478.7,1571.1 L477.8,1573.4 L476.9,1575.6 L476.0,1577.9 L475.1,1580.1 L474.2,1582.3 L473.3,1584.5 L472.4,1586.7 L471.5,1588.8 L470.6,1590.9 L469.7,1593.1 L468.8,1595.1 L467.9,1597.2 L467.0,1599.3 L466.1,1601.3 L465.2,1603.3 L464.3,1605.3 L463.4,1607.3 L462.5,1609.2 L461.5,1611.1 L460.6,1613.0 L459.7,1614.9 L458.8,1616.8 L457.9,1618.6 L457.0,1620.4 L456.1,1622.2 L455.2,1624.0 L454.3,1625.7 L453.4,1627.4 L452.5,1629.1 L451.6,1630.8 L450.7,1632.5 L449.8,1634.1 L448.9,1635.7 L448.0,1637.3 L447.1,1638.9 L446.2,1640.4 L445.2,1641.9 L444.3,1643.4 L443.4,1644.9 L442.5,1646.4 L441.6,1647.8 L440.7,1649.2 L439.8,1650.6 L438.9,1652.0 L438.0,1653.3 L437.1,1654.7 L436.2,1656.0 L435.3,1657.3 L434.4,1658.5 L433.5,1659.8 L432.6,1661.0 L431.7,1662.2 L430.8,1663.4 L429.9,1664.6 L428.9,1665.8 L428.0,1666.9 L427.1,1668.0 L426.2,1669.1 L425.3,1670.2 L424.4,1671.3 L423.5,1672.3 L422.6,1673.4 L421.7,1674.4 L420.8,1675.4 L419.9,1676.4 L419.0,1677.3 L418.1,1678.3 L417.2,1679.2 L416.3,1680.1 L415.4,1681.0 L414.5,1681.9 L413.6,1682.8 L412.7,1683.7 L411.7,1684.5 L410.8,1685.3 L409.9,1686.2 L409.0,1687.0 L408.1,1687.7 L407.2,1688.5 L406.3,1689.3 L405.4,1690.0 L404.5,1690.8 L403.6,1691.5 L402.7,1692.2 L401.8,1692.9 L400.9,1693.6 L400.0,1694.3 L399.1,1694.9 L398.2,1695.6 L397.3,1696.2 L396.4,1696.9 L395.4,1697.5 L394.5,1698.1 L393.6,1698.7 L392.7,1699.3 L391.8,1699.9 L390.9,1700.4 L390.0,1701.0 L389.1,1701.5 L388.2,1702.1 L387.3,1702.6 L386.4,1703.1 L385.5,1703.6 L384.6,1704.1 L383.7,1704.6 L382.8,1705.1 L381.9,1705.6 L381.0,1706.1 L380.1,1706.5 L379.1,1707.0 L378.2,1707.4 L377.3,1707.8 L376.4,1708.3 L375.5,1708.7 L374.6,1709.1 L373.7,1709.5 L372.8,1709.9 L371.9,1710.3 L371.0,1710.7 L370.1,1711.1 L369.2,1711.4 L368.3,1711.8 L367.4,1712.2 L366.5,1712.5 L365.6,1712.9 L364.7,1713.2 L363.8,1713.5 L362.9,1713.9 L361.9,1714.2 L361.0,1714.5 L360.1,1714.8 L359.2,1715.1 L358.3,1715.4 L357.4,1715.7 L356.5,1716.0 L355.6,1716.3 L354.7,1716.6 L353.8,1716.8 L352.9,1717.1 L352.0,1717.4 L351.1,1717.6 L350.2,1717.9 L349.3,1718.1 L348.4,1718.4 L347.5,1718.6 L346.6,1718.9 L345.6,1719.1 L344.7,1719.3 L343.8,1719.6 L342.9,1719.8 L342.0,1720.0 L341.1,1720.2 L340.2,1720.4 L339.3,1720.6 L338.4,1720.8 L337.5,1721.0 L336.6,1721.2 L335.7,1721.4 L334.8,1721.6 L333.9,1721.8 L333.0,1722.0 L332.1,1722.1 L331.2,1722.3 L330.3,1722.5 L329.3,1722.7 L328.4,1722.8 L327.5,1723.0 L326.6,1723.2 L325.7,1723.3 L324.8,1723.5 L323.9,1723.6 L323.0,1723.8 L322.1,1723.9 L321.2,1724.1 L320.3,1724.2 L319.4,1724.3 L318.5,1724.5 L317.6,1724.6 L316.7,1724.7 L315.8,1724.9 L314.9,1725.0 L314.0,1725.1 L313.1,1725.2 L312.1,1725.4 L311.2,1725.5 L310.3,1725.6 L309.4,1725.7 L308.5,1725.8 L307.6,1725.9 L306.7,1726.0 L305.8,1726.1 L304.9,1726.3 L304.0,1726.4 L303.1,1726.5 L302.2,1726.6 L301.3,1726.6 L300.4,1726.7 L299.5,1726.8 L298.6,1726.9 L297.7,1727.0 L296.8,1727.1 L295.8,1727.2 L294.9,1727.3 L294.0,1727.4 L293.1,1727.4 L292.2,1727.5 L291.3,1727.6 L290.4,1727.7 L289.5,1727.8 L288.6,1727.8 L287.7,1727.9 L286.8,1728.0 L285.9,1728.1 L285.0,1728.1 L284.1,1728.2 L283.2,1728.3 L282.3,1728.3 L281.4,1728.4 L280.5,1728.5 L279.6,1728.5 L278.6,1728.6 L277.7,1728.6 L276.8,1728.7 L275.9,1728.8 L275.0,1728.8 L274.1,1728.9 L273.2,1728.9 L272.3,1729.0 L271.4,1729.0 L270.5,1729.1 L269.6,1729.1 L268.7,1729.2 L267.8,1729.2 L266.9,1729.3 L266.0,1729.3 L265.1,1729.4 L264.2,1729.4 L263.3,1729.5 L262.3,1729.5 L261.4,1729.6 L260.5,1729.6 L259.6,1729.7 L258.7,1729.7 L257.8,1729.7 L256.9,1729.8 L256.0,1729.8 L255.1,1729.9 L254.2,1729.9 L253.3,1729.9 L252.4,1730.0 L251.5,1730.0 L250.6,1730.0 L249.7,1730.1 L248.8,1730.1 L247.9,1730.1 L247.0,1730.2 L246.0,1730.2 L245.1,1730.2 L244.2,1730.3 L243.3,1730.3 L242.4,1730.3 L241.5,1730.4 L240.6,1730.4 L239.7,1730.4 L238.8,1730.5 L237.9,1730.5 L237.0,1730.5 L236.1,1730.5 L235.2,1730.6 L234.3,1730.6 L233.4,1730.6 L232.5,1730.6 L231.6,1730.7 L230.7,1730.7 L229.8,1730.7 L228.8,1730.7 L227.9,1730.8 L227.0,1730.8 L226.1,1730.8 L225.2,1730.8 L224.3,1730.8 L223.4,1730.9 L222.5,1730.9 L221.6,1730.9 L220.7,1730.9 L219.8,1730.9 L218.9,1731.0 L218.0,1731.0 L217.1,1731.0 L216.2,1731.0 L215.3,1731.0 L214.4,1731.0 L213.5,1731.1 L212.5,1731.1 L211.6,1731.1 L210.7,1731.1 L209.8,1731.1 L208.9,1731.1 L208.0,1731.2 L207.1,1731.2 L206.2,1731.2 L205.3,1731.2 L204.4,1731.2 L203.5,1731.2 L202.6,1731.2 L201.7,1731.3 L200.8,1731.3 L199.9,1731.3 L199.0,1731.3 L198.1,1731.3 L197.2,1731.3 L196.2,1731.3 L195.3,1731.3 L194.4,1731.4 L193.5,1731.4 L192.6,1731.4 L191.7,1731.4 L190.8,1731.4 L189.9,1731.4 L189.0,1731.4 L188.1,1731.4 L187.2,1731.4 L186.3,1731.5 L185.4,1731.5 L184.5,1731.5 L183.6,1731.5 L182.7,1731.5 L181.8,1731.5 L180.9,1731.5 L180.0,1731.5 L179.0,1731.5 L178.1,1731.5 L177.2,1731.5 L176.3,1731.6 L175.4,1731.6 L174.5,1731.6 L173.6,1731.6 L172.7,1731.6 L171.8,1731.6 L170.9,1731.6 L170.0,1731.6 L169.1,1731.6 L168.2,1731.6 L167.3,1731.6 L166.4,1731.6 L165.5,1731.6 L164.6,1731.6 L163.7,1731.7 L162.7,1731.7 L161.8,1731.7 L160.9,1731.7 L160.0,1731.7 L159.1,1731.7 L158.2,1731.7 L157.3,1731.7 L156.4,1731.7 L155.5,1731.7 L154.6,1731.7 L153.7,1731.7 L152.8,1731.7 L151.9,1731.7 L151.0,1731.7 L150.1,1731.7 L149.2,1731.7 L148.3,1731.7 L147.4,1731.7 L146.4,1731.8 L145.5,1731.8 L144.6,1731.8 L143.7,1731.8 L142.8,1731.8 L141.9,1731.8 L141.0,1731.8 L140.1,1731.8 L139.2,1731.8 L138.3,1731.8 L137.4,1731.8 L136.5,1731.8 L135.6,1731.8 L134.7,1731.8 L133.8,1731.8 L132.9,1731.8 L132.0,1731.8 L131.1,1731.8 L130.2,1731.8 L129.2,1731.8 L128.3,1731.8 L127.4,1731.8 L126.5,1731.8 L125.6,1731.8 L124.7,1731.8 L123.8,1731.8 L122.9,1731.8 L122.0,1731.8 L121.1,1731.9 L120.2,1731.9 L119.3,1731.9 L118.4,1731.9 L117.5,1731.9 L116.6,1731.9 L115.7,1731.9 L114.8,1731.9 L113.9,1731.9 L112.9,1731.9 L112.0,1731.9 L111.1,1731.9 L110.2,1731.9 L109.3,1731.9 L108.4,1731.9 L107.5,1731.9 L106.6,1731.9 L105.7,1731.9 L104.8,1731.9 L103.9,1731.9 L103.0,1731.9 L102.1,1731.9 L101.2,1731.9 L100.3,1731.9 L99.4,1731.9 L98.5,1731.9 L97.6,1731.9 L96.6,1731.9 L95.7,1731.9 L94.8,1731.9 L93.9,1731.9 L93.0,1731.9 L92.1,1731.9 L91.2,1731.9 L90.3,1731.9 L89.4,1731.9 L88.5,1731.9"/>
<path class="das" d="M902.5,1499.8 L901.6,1499.8 L900.7,1499.8 L899.8,1499.8 L898.9,1499.8 L898.0,1499.8 L897.1,1499.8 L896.2,1499.8 L895.3,1499.8 L894.4,1499.8 L893.4,1499.8 L892.5,1499.8 L891.6,1499.8 L890.7,1499.8 L889.8,1499.8 L888.9,1499.8 L888.0,1499.8 L887.1,1499.8 L886.2,1499.8 L885.3,1499.8 L884.4,1499.8 L883.5,1499.8 L882.6,1499.8 L881.7,1499.8 L880.8,1499.8 L879.9,1499.8 L879.0,1499.8 L878.1,1499.8 L877.1,1499.8 L876.2,1499.8 L875.3,1499.8 L874.4,1499.8 L873.5,1499.8 L872.6,1499.8 L871.7,1499.8 L870.8,1499.8 L869.9,1499.8 L869.0,1499.8 L868.1,1499.8 L867.2,1499.8 L866.3,1499.8 L865.4,1499.8 L864.5,1499.8 L863.6,1499.8 L862.7,1499.8 L861.8,1499.8 L860.8,1499.8 L859.9,1499.8 L859.0,1499.8 L858.1,1499.8 L857.2,1499.8 L856.3,1499.8 L855.4,1499.8 L854.5,1499.8 L853.6,1499.8 L852.7,1499.8 L851.8,1499.8 L850.9,1499.8 L850.0,1499.8 L849.1,1499.8 L848.2,1499.8 L847.3,1499.8 L846.4,1499.8 L845.5,1499.8 L844.6,1499.8 L843.6,1499.8 L842.7,1499.8 L841.8,1499.8 L840.9,1499.8 L840.0,1499.8 L839.1,1499.8 L838.2,1499.8 L837.3,1499.8 L836.4,1499.8 L835.5,1499.8 L834.6,1499.8 L833.7,1499.8 L832.8,1499.8 L831.9,1499.8 L831.0,1499.8 L830.1,1499.8 L829.2,1499.8 L828.3,1499.8 L827.3,1499.8 L826.4,1499.8 L825.5,1499.8 L824.6,1499.8 L823.7,1499.8 L822.8,1499.8 L821.9,1499.8 L821.0,1499.8 L820.1,1499.8 L819.2,1499.8 L818.3,1499.8 L817.4,1499.8 L816.5,1499.8 L815.6,1499.8 L814.7,1499.8 L813.8,1499.8 L812.9,1499.8 L812.0,1499.8 L811.0,1499.8 L810.1,1499.8 L809.2,1499.8 L808.3,1499.8 L807.4,1499.8 L806.5,1499.8 L805.6,1499.8 L804.7,1499.8 L803.8,1499.8 L802.9,1499.8 L802.0,1499.8 L801.1,1499.8 L800.2,1499.8 L799.3,1499.8 L798.4,1499.8 L797.5,1499.8 L796.6,1499.8 L795.7,1499.8 L794.8,1499.8 L793.8,1499.8 L792.9,1499.8 L792.0,1499.8 L791.1,1499.8 L790.2,1499.8 L789.3,1499.8 L788.4,1499.8 L787.5,1499.8 L786.6,1499.8 L785.7,1499.8 L784.8,1499.8 L783.9,1499.8 L783.0,1499.8 L782.1,1499.8 L781.2,1499.8 L780.3,1499.8 L779.4,1499.8 L778.5,1499.8 L777.5,1499.8 L776.6,1499.8 L775.7,1499.8 L774.8,1499.8 L773.9,1499.8 L773.0,1499.8 L772.1,1499.8 L771.2,1499.8 L770.3,1499.8 L769.4,1499.8 L768.5,1499.8 L767.6,1499.8 L766.7,1499.8 L765.8,1499.8 L764.9,1499.8 L764.0,1499.8 L763.1,1499.8 L762.2,1499.8 L761.2,1499.8 L760.3,1499.8 L759.4,1499.8 L758.5,1499.8 L757.6,1499.8 L756.7,1499.8 L755.8,1499.8 L754.9,1499.8 L754.0,1499.8 L753.1,1499.8 L752.2,1499.8 L751.3,1499.8 L750.4,1499.8 L749.5,1499.8 L748.6,1499.8 L747.7,1499.8 L746.8,1499.8 L745.9,1499.8 L745.0,1499.8 L744.0,1499.8 L743.1,1499.8 L742.2,1499.8 L741.3,1499.8 L740.4,1499.8 L739.5,1499.8 L738.6,1499.8 L737.7,1499.8 L736.8,1499.8 L735.9,1499.8 L735.0,1499.8 L734.1,1499.8 L733.2,1499.8 L732.3,1499.8 L731.4,1499.8 L730.5,1499.8 L729.6,1499.8 L728.7,1499.8 L727.7,1499.8 L726.8,1499.8 L725.9,1499.8 L725.0,1499.8 L724.1,1499.8 L723.2,1499.8 L722.3,1499.8 L721.4,1499.8 L720.5,1499.8 L719.6,1499.8 L718.7,1499.8 L717.8,1499.8 L716.9,1499.8 L716.0,1499.8 L715.1,1499.8 L714.2,1499.8 L713.3,1499.8 L712.4,1499.7 L711.4,1499.7 L710.5,1499.7 L709.6,1499.7 L708.7,1499.7 L707.8,1499.7 L706.9,1499.7 L706.0,1499.7 L705.1,1499.7 L704.2,1499.7 L703.3,1499.7 L702.4,1499.7 L701.5,1499.7 L700.6,1499.7 L699.7,1499.7 L698.8,1499.7 L697.9,1499.7 L697.0,1499.7 L696.1,1499.7 L695.2,1499.7 L694.2,1499.7 L693.3,1499.7 L692.4,1499.7 L691.5,1499.7 L690.6,1499.7 L689.7,1499.7 L688.8,1499.7 L687.9,1499.7 L687.0,1499.7 L686.1,1499.7 L685.2,1499.7 L684.3,1499.7 L683.4,1499.7 L682.5,1499.7 L681.6,1499.8 L680.7,1499.8 L679.8,1499.8 L678.9,1499.8 L677.9,1499.8 L677.0,1499.8 L676.1,1499.8 L675.2,1499.8 L674.3,1499.8 L673.4,1499.8 L672.5,1499.8 L671.6,1499.8 L670.7,1499.8 L669.8,1499.8 L668.9,1499.9 L668.0,1499.9 L667.1,1499.9 L666.2,1499.9 L665.3,1499.9 L664.4,1499.9 L663.5,1500.0 L662.6,1500.0 L661.7,1500.0 L660.7,1500.0 L659.8,1500.0 L658.9,1500.1 L658.0,1500.1 L657.1,1500.1 L656.2,1500.1 L655.3,1500.2 L654.4,1500.2 L653.5,1500.2 L652.6,1500.3 L651.7,1500.3 L650.8,1500.3 L649.9,1500.4 L649.0,1500.4 L648.1,1500.4 L647.2,1500.5 L646.3,1500.5 L645.4,1500.6 L644.4,1500.6 L643.5,1500.7 L642.6,1500.7 L641.7,1500.7 L640.8,1500.8 L639.9,1500.8 L639.0,1500.9 L638.1,1500.9 L637.2,1501.0 L636.3,1501.0 L635.4,1501.1 L634.5,1501.1 L633.6,1501.2 L632.7,1501.2 L631.8,1501.2 L630.9,1501.3 L630.0,1501.3 L629.1,1501.4 L628.1,1501.4 L627.2,1501.5 L626.3,1501.5 L625.4,1501.5 L624.5,1501.6 L623.6,1501.6 L622.7,1501.7 L621.8,1501.7 L620.9,1501.7 L620.0,1501.7 L619.1,1501.8 L618.2,1501.8 L617.3,1501.8 L616.4,1501.8 L615.5,1501.8 L614.6,1501.8 L613.7,1501.8 L612.8,1501.8 L611.9,1501.8 L610.9,1501.8 L610.0,1501.8 L609.1,1501.8 L608.2,1501.8 L607.3,1501.7 L606.4,1501.7 L605.5,1501.6 L604.6,1501.6 L603.7,1501.5 L602.8,1501.5 L601.9,1501.4 L601.0,1501.3 L600.1,1501.2 L599.2,1501.1 L598.3,1501.0 L597.4,1500.9 L596.5,1500.8 L595.6,1500.7 L594.6,1500.5 L593.7,1500.4 L592.8,1500.2 L591.9,1500.0 L591.0,1499.9 L590.1,1499.7 L589.2,1499.5 L588.3,1499.3 L587.4,1499.0 L586.5,1498.8 L585.6,1498.6 L584.7,1498.3 L583.8,1498.0 L582.9,1497.7 L582.0,1497.4 L581.1,1497.1 L580.2,1496.8 L579.3,1496.5 L578.3,1496.1 L577.4,1495.8 L576.5,1495.4 L575.6,1495.0 L574.7,1494.6 L573.8,1494.2 L572.9,1493.8 L572.0,1493.3 L571.1,1492.9 L570.2,1492.4 L569.3,1491.9 L568.4,1491.4 L567.5,1490.9 L566.6,1490.4 L565.7,1489.9 L564.8,1489.3 L563.9,1488.7 L563.0,1488.1 L562.1,1487.5 L561.1,1486.9 L560.2,1486.3 L559.3,1485.6 L558.4,1485.0 L557.5,1484.3 L556.6,1483.6 L555.7,1482.9 L554.8,1482.2 L553.9,1481.5 L553.0,1480.7 L552.1,1480.0 L551.2,1479.2 L550.3,1478.4 L549.4,1477.6 L548.5,1476.8 L547.6,1475.9 L546.7,1475.1 L545.8,1474.2 L544.8,1473.3 L543.9,1472.5 L543.0,1471.6 L542.1,1470.6 L541.2,1469.7 L540.3,1468.8 L539.4,1467.8 L538.5,1466.9 L537.6,1465.9 L536.7,1464.9 L535.8,1463.9 L534.9,1462.9 L534.0,1461.8 L533.1,1460.8 L532.2,1459.8 L531.3,1458.7 L530.4,1457.6 L529.5,1456.6 L528.5,1455.5 L527.6,1454.4 L526.7,1453.3 L525.8,1452.2 L524.9,1451.0 L524.0,1449.9 L523.1,1448.8 L522.2,1447.6 L521.3,1446.5 L520.4,1445.3 L519.5,1444.1 L518.6,1442.9 L517.7,1441.8 L516.8,1440.6 L515.9,1439.4 L515.0,1438.2 L514.1,1436.9 L513.2,1435.7 L512.3,1434.5 L511.3,1433.3 L510.4,1432.1 L509.5,1430.8 L508.6,1429.6 L507.7,1428.4 L506.8,1427.1 L505.9,1425.9 L505.0,1424.6 L504.1,1423.4 L503.2,1422.1 L502.3,1420.9 L501.4,1419.6 L500.5,1418.4 L499.6,1417.1 L498.7,1415.8 L497.8,1414.6 L496.9,1413.3 L496.0,1412.1 L495.0,1410.8 L494.1,1409.6 L493.2,1408.3 L492.3,1407.1 L491.4,1405.8 L490.5,1404.6 L489.6,1403.3 L488.7,1402.1 L487.8,1400.8 L486.9,1399.6 L486.0,1398.3 L485.1,1397.1 L484.2,1395.9 L483.3,1394.7 L482.4,1393.4 L481.5,1392.2 L480.6,1391.0 L479.7,1389.8 L478.7,1388.6 L477.8,1387.4 L476.9,1386.2 L476.0,1385.0 L475.1,1383.8 L474.2,1382.6 L473.3,1381.4 L472.4,1380.3 L471.5,1379.1 L470.6,1378.0 L469.7,1376.8 L468.8,1375.7 L467.9,1374.5 L467.0,1373.4 L466.1,1372.3 L465.2,1371.1 L464.3,1370.0 L463.4,1368.9 L462.5,1367.8 L461.5,1366.7 L460.6,1365.7 L459.7,1364.6 L458.8,1363.5 L457.9,1362.4 L457.0,1361.4 L456.1,1360.3 L455.2,1359.3 L454.3,1358.3 L453.4,1357.3 L452.5,1356.2 L451.6,1355.2 L450.7,1354.2 L449.8,1353.2 L448.9,1352.3 L448.0,1351.3 L447.1,1350.3 L446.2,1349.4 L445.2,1348.4 L444.3,1347.5 L443.4,1346.5 L442.5,1345.6 L441.6,1344.7 L440.7,1343.8 L439.8,1342.9 L438.9,1342.0 L438.0,1341.1 L437.1,1340.2 L436.2,1339.3 L435.3,1338.5 L434.4,1337.6 L433.5,1336.8 L432.6,1335.9 L431.7,1335.1 L430.8,1334.3 L429.9,1333.5 L428.9,1332.7 L428.0,1331.9 L427.1,1331.1 L426.2,1330.3 L425.3,1329.5 L424.4,1328.8 L423.5,1328.0 L422.6,1327.3 L421.7,1326.5 L420.8,1325.8 L419.9,1325.1 L419.0,1324.4 L418.1,1323.6 L417.2,1322.9 L416.3,1322.2 L415.4,1321.6 L414.5,1320.9 L413.6,1320.2 L412.7,1319.5 L411.7,1318.9 L410.8,1318.2 L409.9,1317.6 L409.0,1317.0 L408.1,1316.3 L407.2,1315.7 L406.3,1315.1 L405.4,1314.5 L404.5,1313.9 L403.6,1313.3 L402.7,1312.7 L401.8,1312.1 L400.9,1311.5 L400.0,1311.0 L399.1,1310.4 L398.2,1309.9 L397.3,1309.3 L396.4,1308.8 L395.4,1308.2 L394.5,1307.7 L393.6,1307.2 L392.7,1306.7 L391.8,1306.2 L390.9,1305.7 L390.0,1305.2 L389.1,1304.7 L388.2,1304.2 L387.3,1303.7 L386.4,1303.2 L385.5,1302.8 L384.6,1302.3 L383.7,1301.8 L382.8,1301.4 L381.9,1300.9 L381.0,1300.5 L380.1,1300.1 L379.1,1299.6 L378.2,1299.2 L377.3,1298.8 L376.4,1298.4 L375.5,1298.0 L374.6,1297.6 L373.7,1297.2 L372.8,1296.8 L371.9,1296.4 L371.0,1296.0 L370.1,1295.6 L369.2,1295.3 L368.3,1294.9 L367.4,1294.5 L366.5,1294.2 L365.6,1293.8 L364.7,1293.5 L363.8,1293.1 L362.9,1292.8 L361.9,1292.4 L361.0,1292.1 L360.1,1291.8 L359.2,1291.4 L358.3,1291.1 L357.4,1290.8 L356.5,1290.5 L355.6,1290.2 L354.7,1289.9 L353.8,1289.6 L352.9,1289.3 L352.0,1289.0 L351.1,1288.7 L350.2,1288.4 L349.3,1288.1 L348.4,1287.9 L347.5,1287.6 L346.6,1287.3 L345.6,1287.0 L344.7,1286.8 L343.8,1286.5 L342.9,1286.3 L342.0,1286.0 L341.1,1285.8 L340.2,1285.5 L339.3,1285.3 L338.4,1285.0 L337.5,1284.8 L336.6,1284.6 L335.7,1284.3 L334.8,1284.1 L333.9,1283.9 L333.0,1283.6 L332.1,1283.4 L331.2,1283.2 L330.3,1283.0 L329.3,1282.8 L328.4,1282.6 L327.5,1282.4 L326.6,1282.2 L325.7,1282.0 L324.8,1281.8 L323.9,1281.6 L323.0,1281.4 L322.1,1281.2 L321.2,1281.0 L320.3,1280.8 L319.4,1280.6 L318.5,1280.5 L317.6,1280.3 L316.7,1280.1 L315.8,1279.9 L314.9,1279.8 L314.0,1279.6 L313.1,1279.4 L312.1,1279.3 L311.2,1279.1 L310.3,1279.0 L309.4,1278.8 L308.5,1278.6 L307.6,1278.5 L306.7,1278.3 L305.8,1278.2 L304.9,1278.0 L304.0,1277.9 L303.1,1277.8 L302.2,1277.6 L301.3,1277.5 L300.4,1277.3 L299.5,1277.2 L298.6,1277.1 L297.7,1276.9 L296.8,1276.8 L295.8,1276.7 L294.9,1276.6 L294.0,1276.4 L293.1,1276.3 L292.2,1276.2 L291.3,1276.1 L290.4,1276.0 L289.5,1275.8 L288.6,1275.7 L287.7,1275.6 L286.8,1275.5 L285.9,1275.4 L285.0,1275.3 L284.1,1275.2 L283.2,1275.1 L282.3,1275.0 L281.4,1274.9 L280.5,1274.8 L279.6,1274.7 L278.6,1274.6 L277.7,1274.5 L276.8,1274.4 L275.9,1274.3 L275.0,1274.2 L274.1,1274.1 L273.2,1274.0 L272.3,1273.9 L271.4,1273.8 L270.5,1273.7 L269.6,1273.7 L268.7,1273.6 L267.8,1273.5 L266.9,1273.4 L266.0,1273.3 L265.1,1273.2 L264.2,1273.2 L263.3,1273.1 L262.3,1273.0 L261.4,1272.9 L260.5,1272.9 L259.6,1272.8 L258.7,1272.7 L257.8,1272.6 L256.9,1272.6 L256.0,1272.5 L255.1,1272.4 L254.2,1272.4 L253.3,1272.3 L252.4,1272.2 L251.5,1272.2 L250.6,1272.1 L249.7,1272.0 L248.8,1272.0 L247.9,1271.9 L247.0,1271.8 L246.0,1271.8 L245.1,1271.7 L244.2,1271.7 L243.3,1271.6 L242.4,1271.6 L241.5,1271.5 L240.6,1271.4 L239.7,1271.4 L238.8,1271.3 L237.9,1271.3 L237.0,1271.2 L236.1,1271.2 L235.2,1271.1 L234.3,1271.1 L233.4,1271.0 L232.5,1271.0 L231.6,1270.9 L230.7,1270.9 L229.8,1270.8 L228.8,1270.8 L227.9,1270.7 L227.0,1270.7 L226.1,1270.7 L225.2,1270.6 L224.3,1270.6 L223.4,1270.5 L222.5,1270.5 L221.6,1270.4 L220.7,1270.4 L219.8,1270.4 L218.9,1270.3 L218.0,1270.3 L217.1,1270.2 L216.2,1270.2 L215.3,1270.2 L214.4,1270.1 L213.5,1270.1 L212.5,1270.1 L211.6,1270.0 L210.7,1270.0 L209.8,1270.0 L208.9,1269.9 L208.0,1269.9 L207.1,1269.9 L206.2,1269.8 L205.3,1269.8 L204.4,1269.8 L203.5,1269.7 L202.6,1269.7 L201.7,1269.7 L200.8,1269.6 L199.9,1269.6 L199.0,1269.6 L198.1,1269.6 L197.2,1269.5 L196.2,1269.5 L195.3,1269.5 L194.4,1269.4 L193.5,1269.4 L192.6,1269.4 L191.7,1269.4 L190.8,1269.3 L189.9,1269.3 L189.0,1269.3 L188.1,1269.3 L187.2,1269.2 L186.3,1269.2 L185.4,1269.2 L184.5,1269.2 L183.6,1269.1 L182.7,1269.1 L181.8,1269.1 L180.9,1269.1 L180.0,1269.1 L179.0,1269.0 L178.1,1269.0 L177.2,1269.0 L176.3,1269.0 L175.4,1269.0 L174.5,1268.9 L173.6,1268.9 L172.7,1268.9 L171.8,1268.9 L170.9,1268.9 L170.0,1268.8 L169.1,1268.8 L168.2,1268.8 L167.3,1268.8 L166.4,1268.8 L165.5,1268.7 L164.6,1268.7 L163.7,1268.7 L162.7,1268.7 L161.8,1268.7 L160.9,1268.7 L160.0,1268.6 L159.1,1268.6 L158.2,1268.6 L157.3,1268.6 L156.4,1268.6 L155.5,1268.6 L154.6,1268.6 L153.7,1268.5 L152.8,1268.5 L151.9,1268.5 L151.0,1268.5 L150.1,1268.5 L149.2,1268.5 L148.3,1268.5 L147.4,1268.4 L146.4,1268.4 L145.5,1268.4 L144.6,1268.4 L143.7,1268.4 L142.8,1268.4 L141.9,1268.4 L141.0,1268.4 L140.1,1268.3 L139.2,1268.3 L138.3,1268.3 L137.4,1268.3 L136.5,1268.3 L135.6,1268.3 L134.7,1268.3 L133.8,1268.3 L132.9,1268.3 L132.0,1268.2 L131.1,1268.2 L130.2,1268.2 L129.2,1268.2 L128.3,1268.2 L127.4,1268.2 L126.5,1268.2 L125.6,1268.2 L124.7,1268.2 L123.8,1268.2 L122.9,1268.2 L122.0,1268.1 L121.1,1268.1 L120.2,1268.1 L119.3,1268.1 L118.4,1268.1 L117.5,1268.1 L116.6,1268.1 L115.7,1268.1 L114.8,1268.1 L113.9,1268.1 L112.9,1268.1 L112.0,1268.1 L111.1,1268.0 L110.2,1268.0 L109.3,1268.0 L108.4,1268.0 L107.5,1268.0 L106.6,1268.0 L105.7,1268.0 L104.8,1268.0 L103.9,1268.0 L103.0,1268.0 L102.1,1268.0 L101.2,1268.0 L100.3,1268.0 L99.4,1268.0 L98.5,1268.0 L97.6,1267.9 L96.6,1267.9 L95.7,1267.9 L94.8,1267.9 L93.9,1267.9 L93.0,1267.9 L92.1,1267.9 L91.2,1267.9 L90.3,1267.9 L89.4,1267.9 L88.5,1267.9"/>
<path class="sol" style="stroke-width:2.5" d="M88.5,1136.3 L89.4,1136.3 L90.3,1136.3 L91.2,1136.3 L92.1,1136.3 L93.0,1136.3 L93.9,1136.3 L94.8,1136.3 L95.7,1136.3 L96.6,1136.3 L97.6,1136.3 L98.5,1136.3 L99.4,1136.3 L100.3,1136.3 L101.2,1136.3 L102.1,1136.3 L103.0,1136.3 L103.9,1136.3 L104.8,1136.3 L105.7,1136.3 L106.6,1136.3 L107.5,1136.3 L108.4,1136.3 L109.3,1136.3 L110.2,1136.3 L111.1,1136.3 L112.0,1136.3 L112.9,1136.3 L113.9,1136.3 L114.8,1136.3 L115.7,1136.3 L116.6,1136.3 L117.5,1136.3 L118.4,1136.3 L119.3,1136.3 L120.2,1136.3 L121.1,1136.3 L122.0,1136.4 L122.9,1136.4 L123.8,1136.4 L124.7,1136.4 L125.6,1136.4 L126.5,1136.4 L127.4,1136.4 L128.3,1136.4 L129.2,1136.4 L130.2,1136.4 L131.1,1136.4 L132.0,1136.4 L132.9,1136.4 L133.8,1136.4 L134.7,1136.4 L135.6,1136.4 L136.5,1136.4 L137.4,1136.4 L138.3,1136.4 L139.2,1136.4 L140.1,1136.4 L141.0,1136.4 L141.9,1136.4 L142.8,1136.4 L143.7,1136.4 L144.6,1136.4 L145.5,1136.4 L146.4,1136.4 L147.4,1136.5 L148.3,1136.5 L149.2,1136.5 L150.1,1136.5 L151.0,1136.5 L151.9,1136.5 L152.8,1136.5 L153.7,1136.5 L154.6,1136.5 L155.5,1136.5 L156.4,1136.5 L157.3,1136.5 L158.2,1136.5 L159.1,1136.5 L160.0,1136.5 L160.9,1136.5 L161.8,1136.5 L162.7,1136.5 L163.7,1136.5 L164.6,1136.6 L165.5,1136.6 L166.4,1136.6 L167.3,1136.6 L168.2,1136.6 L169.1,1136.6 L170.0,1136.6 L170.9,1136.6 L171.8,1136.6 L172.7,1136.6 L173.6,1136.6 L174.5,1136.6 L175.4,1136.6 L176.3,1136.6 L177.2,1136.7 L178.1,1136.7 L179.0,1136.7 L180.0,1136.7 L180.9,1136.7 L181.8,1136.7 L182.7,1136.7 L183.6,1136.7 L184.5,1136.7 L185.4,1136.7 L186.3,1136.7 L187.2,1136.8 L188.1,1136.8 L189.0,1136.8 L189.9,1136.8 L190.8,1136.8 L191.7,1136.8 L192.6,1136.8 L193.5,1136.8 L194.4,1136.8 L195.3,1136.9 L196.2,1136.9 L197.2,1136.9 L198.1,1136.9 L199.0,1136.9 L199.9,1136.9 L200.8,1136.9 L201.7,1136.9 L202.6,1137.0 L203.5,1137.0 L204.4,1137.0 L205.3,1137.0 L206.2,1137.0 L207.1,1137.0 L208.0,1137.0 L208.9,1137.1 L209.8,1137.1 L210.7,1137.1 L211.6,1137.1 L212.5,1137.1 L213.5,1137.1 L214.4,1137.2 L215.3,1137.2 L216.2,1137.2 L217.1,1137.2 L218.0,1137.2 L218.9,1137.2 L219.8,1137.3 L220.7,1137.3 L221.6,1137.3 L222.5,1137.3 L223.4,1137.3 L224.3,1137.4 L225.2,1137.4 L226.1,1137.4 L227.0,1137.4 L227.9,1137.4 L228.8,1137.5 L229.8,1137.5 L230.7,1137.5 L231.6,1137.5 L232.5,1137.6 L233.4,1137.6 L234.3,1137.6 L235.2,1137.6 L236.1,1137.7 L237.0,1137.7 L237.9,1137.7 L238.8,1137.7 L239.7,1137.8 L240.6,1137.8 L241.5,1137.8 L242.4,1137.9 L243.3,1137.9 L244.2,1137.9 L245.1,1138.0 L246.0,1138.0 L247.0,1138.0 L247.9,1138.1 L248.8,1138.1 L249.7,1138.1 L250.6,1138.2 L251.5,1138.2 L252.4,1138.2 L253.3,1138.3 L254.2,1138.3 L255.1,1138.3 L256.0,1138.4 L256.9,1138.4 L257.8,1138.5 L258.7,1138.5 L259.6,1138.5 L260.5,1138.6 L261.4,1138.6 L262.3,1138.7 L263.3,1138.7 L264.2,1138.8 L265.1,1138.8 L266.0,1138.9 L266.9,1138.9 L267.8,1139.0 L268.7,1139.0 L269.6,1139.1 L270.5,1139.1 L271.4,1139.2 L272.3,1139.2 L273.2,1139.3 L274.1,1139.3 L275.0,1139.4 L275.9,1139.4 L276.8,1139.5 L277.7,1139.6 L278.6,1139.6 L279.6,1139.7 L280.5,1139.7 L281.4,1139.8 L282.3,1139.9 L283.2,1139.9 L284.1,1140.0 L285.0,1140.1 L285.9,1140.1 L286.8,1140.2 L287.7,1140.3 L288.6,1140.4 L289.5,1140.4 L290.4,1140.5 L291.3,1140.6 L292.2,1140.7 L293.1,1140.8 L294.0,1140.8 L294.9,1140.9 L295.8,1141.0 L296.8,1141.1 L297.7,1141.2 L298.6,1141.3 L299.5,1141.4 L300.4,1141.5 L301.3,1141.6 L302.2,1141.6 L303.1,1141.7 L304.0,1141.8 L304.9,1141.9 L305.8,1142.1 L306.7,1142.2 L307.6,1142.3 L308.5,1142.4 L309.4,1142.5 L310.3,1142.6 L311.2,1142.7 L312.1,1142.8 L313.1,1143.0 L314.0,1143.1 L314.9,1143.2 L315.8,1143.3 L316.7,1143.5 L317.6,1143.6 L318.5,1143.7 L319.4,1143.9 L320.3,1144.0 L321.2,1144.1 L322.1,1144.3 L323.0,1144.4 L323.9,1144.6 L324.8,1144.7 L325.7,1144.9 L326.6,1145.0 L327.5,1145.2 L328.4,1145.4 L329.3,1145.5 L330.3,1145.7 L331.2,1145.9 L332.1,1146.1 L333.0,1146.2 L333.9,1146.4 L334.8,1146.6 L335.7,1146.8 L336.6,1147.0 L337.5,1147.2 L338.4,1147.4 L339.3,1147.6 L340.2,1147.8 L341.1,1148.0 L342.0,1148.2 L342.9,1148.4 L343.8,1148.6 L344.7,1148.9 L345.6,1149.1 L346.6,1149.3 L347.5,1149.6 L348.4,1149.8 L349.3,1150.1 L350.2,1150.3 L351.1,1150.6 L352.0,1150.8 L352.9,1151.1 L353.8,1151.4 L354.7,1151.6 L355.6,1151.9 L356.5,1152.2 L357.4,1152.5 L358.3,1152.8 L359.2,1153.1 L360.1,1153.4 L361.0,1153.7 L361.9,1154.0 L362.9,1154.3 L363.8,1154.7 L364.7,1155.0 L365.6,1155.3 L366.5,1155.7 L367.4,1156.0 L368.3,1156.4 L369.2,1156.8 L370.1,1157.1 L371.0,1157.5 L371.9,1157.9 L372.8,1158.3 L373.7,1158.7 L374.6,1159.1 L375.5,1159.5 L376.4,1159.9 L377.3,1160.4 L378.2,1160.8 L379.1,1161.2 L380.1,1161.7 L381.0,1162.1 L381.9,1162.6 L382.8,1163.1 L383.7,1163.6 L384.6,1164.1 L385.5,1164.6 L386.4,1165.1 L387.3,1165.6 L388.2,1166.1 L389.1,1166.7 L390.0,1167.2 L390.9,1167.8 L391.8,1168.3 L392.7,1168.9 L393.6,1169.5 L394.5,1170.1 L395.4,1170.7 L396.4,1171.3 L397.3,1172.0 L398.2,1172.6 L399.1,1173.3 L400.0,1173.9 L400.9,1174.6 L401.8,1175.3 L402.7,1176.0 L403.6,1176.7 L404.5,1177.4 L405.4,1178.2 L406.3,1178.9 L407.2,1179.7 L408.1,1180.5 L409.0,1181.2 L409.9,1182.0 L410.8,1182.9 L411.7,1183.7 L412.7,1184.5 L413.6,1185.4 L414.5,1186.3 L415.4,1187.2 L416.3,1188.1 L417.2,1189.0 L418.1,1189.9 L419.0,1190.9 L419.9,1191.8 L420.8,1192.8 L421.7,1193.8 L422.6,1194.8 L423.5,1195.9 L424.4,1196.9 L425.3,1198.0 L426.2,1199.1 L427.1,1200.2 L428.0,1201.3 L428.9,1202.4 L429.9,1203.6 L430.8,1204.8 L431.7,1206.0 L432.6,1207.2 L433.5,1208.4 L434.4,1209.7 L435.3,1210.9 L436.2,1212.2 L437.1,1213.5 L438.0,1214.9 L438.9,1216.2 L439.8,1217.6 L440.7,1219.0 L441.6,1220.4 L442.5,1221.8 L443.4,1223.3 L444.3,1224.8 L445.2,1226.3 L446.2,1227.8 L447.1,1229.3 L448.0,1230.9 L448.9,1232.5 L449.8,1234.1 L450.7,1235.7 L451.6,1237.4 L452.5,1239.1 L453.4,1240.8 L454.3,1242.5 L455.2,1244.2 L456.1,1246.0 L457.0,1247.8 L457.9,1249.6 L458.8,1251.4 L459.7,1253.3 L460.6,1255.2 L461.5,1257.1 L462.5,1259.0 L463.4,1260.9 L464.3,1262.9 L465.2,1264.9 L466.1,1266.9 L467.0,1268.9 L467.9,1271.0 L468.8,1273.1 L469.7,1275.1 L470.6,1277.3 L471.5,1279.4 L472.4,1281.5 L473.3,1283.7 L474.2,1285.9 L475.1,1288.1 L476.0,1290.3 L476.9,1292.6 L477.8,1294.8 L478.7,1297.1 L479.7,1299.4 L480.6,1301.7 L481.5,1304.0 L482.4,1306.3 L483.3,1308.6 L484.2,1311.0 L485.1,1313.3 L486.0,1315.7 L486.9,1318.1 L487.8,1320.5 L488.7,1322.9 L489.6,1325.2 L490.5,1327.6 L491.4,1330.0 L492.3,1332.5 L493.2,1334.9 L494.1,1337.3 L495.0,1339.7 L496.0,1342.1 L496.9,1344.5 L497.8,1346.9 L498.7,1349.3 L499.6,1351.6 L500.5,1354.0 L501.4,1356.4 L502.3,1358.7 L503.2,1361.1 L504.1,1363.4 L505.0,1365.7 L505.9,1368.0 L506.8,1370.3 L507.7,1372.6 L508.6,1374.8 L509.5,1377.1 L510.4,1379.3 L511.3,1381.5 L512.3,1383.6 L513.2,1385.8 L514.1,1387.9 L515.0,1389.9 L515.9,1392.0 L516.8,1394.0 L517.7,1396.0 L518.6,1398.0 L519.5,1399.9 L520.4,1401.8 L521.3,1403.6 L522.2,1405.5 L523.1,1407.2 L524.0,1409.0 L524.9,1410.7 L525.8,1412.4 L526.7,1414.0 L527.6,1415.6 L528.5,1417.1 L529.5,1418.7 L530.4,1420.1 L531.3,1421.5 L532.2,1422.9 L533.1,1424.3 L534.0,1425.6 L534.9,1426.8 L535.8,1428.0 L536.7,1429.2 L537.6,1430.3 L538.5,1431.4 L539.4,1432.4 L540.3,1433.4 L541.2,1434.3 L542.1,1435.2 L543.0,1436.1 L543.9,1436.9 L544.8,1437.6 L545.8,1438.3 L546.7,1439.0 L547.6,1439.7 L548.5,1440.3 L549.4,1440.8 L550.3,1441.3 L551.2,1441.8 L552.1,1442.2 L553.0,1442.6 L553.9,1443.0 L554.8,1443.3 L555.7,1443.6 L556.6,1443.8 L557.5,1444.0 L558.4,1444.2 L559.3,1444.4 L560.2,1444.5 L561.1,1444.6 L562.1,1444.6 L563.0,1444.7 L563.9,1444.7 L564.8,1444.6 L565.7,1444.6 L566.6,1444.5 L567.5,1444.4 L568.4,1444.3 L569.3,1444.2 L570.2,1444.0 L571.1,1443.9 L572.0,1443.7 L572.9,1443.5 L573.8,1443.3 L574.7,1443.0 L575.6,1442.8 L576.5,1442.5 L577.4,1442.3 L578.3,1442.0 L579.3,1441.7 L580.2,1441.5 L581.1,1441.2 L582.0,1440.9 L582.9,1440.6 L583.8,1440.3 L584.7,1440.0 L585.6,1439.7 L586.5,1439.4 L587.4,1439.1 L588.3,1438.9 L589.2,1438.6 L590.1,1438.3 L591.0,1438.0 L591.9,1437.8 L592.8,1437.5 L593.7,1437.2 L594.6,1437.0 L595.6,1436.8 L596.5,1436.5 L597.4,1436.3 L598.3,1436.1 L599.2,1435.9 L600.1,1435.7 L601.0,1435.5 L601.9,1435.3 L602.8,1435.2 L603.7,1435.0 L604.6,1434.9 L605.5,1434.7 L606.4,1434.6 L607.3,1434.5 L608.2,1434.4 L609.1,1434.3 L610.0,1434.2 L610.9,1434.1 L611.9,1434.0 L612.8,1434.0 L613.7,1433.9 L614.6,1433.8 L615.5,1433.8 L616.4,1433.8 L617.3,1433.7 L618.2,1433.7 L619.1,1433.7 L620.0,1433.7 L620.9,1433.7 L621.8,1433.6 L622.7,1433.6 L623.6,1433.6 L624.5,1433.7 L625.4,1433.7 L626.3,1433.7 L627.2,1433.7 L628.1,1433.7 L629.1,1433.7 L630.0,1433.7 L630.9,1433.8 L631.8,1433.8 L632.7,1433.8 L633.6,1433.8 L634.5,1433.8 L635.4,1433.9 L636.3,1433.9 L637.2,1433.9 L638.1,1433.9 L639.0,1433.9 L639.9,1434.0 L640.8,1434.0 L641.7,1434.0 L642.6,1434.0 L643.5,1434.0 L644.4,1434.0 L645.4,1434.0 L646.3,1434.1 L647.2,1434.1 L648.1,1434.1 L649.0,1434.1 L649.9,1434.1 L650.8,1434.1 L651.7,1434.1 L652.6,1434.1 L653.5,1434.1 L654.4,1434.1 L655.3,1434.1 L656.2,1434.1 L657.1,1434.1 L658.0,1434.1 L658.9,1434.1 L659.8,1434.1 L660.7,1434.1 L661.7,1434.1 L662.6,1434.1 L663.5,1434.1 L664.4,1434.1 L665.3,1434.1 L666.2,1434.1 L667.1,1434.1 L668.0,1434.1 L668.9,1434.1 L669.8,1434.1 L670.7,1434.1 L671.6,1434.1 L672.5,1434.1 L673.4,1434.1 L674.3,1434.1 L675.2,1434.1 L676.1,1434.1 L677.0,1434.1 L677.9,1434.1 L678.9,1434.1 L679.8,1434.1 L680.7,1434.1 L681.6,1434.1 L682.5,1434.1 L683.4,1434.1 L684.3,1434.1 L685.2,1434.1 L686.1,1434.1 L687.0,1434.1 L687.9,1434.1 L688.8,1434.1 L689.7,1434.1 L690.6,1434.1 L691.5,1434.1 L692.4,1434.1 L693.3,1434.1 L694.2,1434.1 L695.2,1434.1 L696.1,1434.1 L697.0,1434.1 L697.9,1434.1 L698.8,1434.1 L699.7,1434.1 L700.6,1434.1 L701.5,1434.1 L702.4,1434.1 L703.3,1434.1 L704.2,1434.1 L705.1,1434.1 L706.0,1434.1 L706.9,1434.1 L707.8,1434.1 L708.7,1434.1 L709.6,1434.1 L710.5,1434.1 L711.4,1434.1 L712.4,1434.1 L713.3,1434.1 L714.2,1434.1 L715.1,1434.1 L716.0,1434.1 L716.9,1434.1 L717.8,1434.1 L718.7,1434.1 L719.6,1434.1 L720.5,1434.1 L721.4,1434.1 L722.3,1434.1 L723.2,1434.1 L724.1,1434.1 L725.0,1434.1 L725.9,1434.1 L726.8,1434.1 L727.7,1434.1 L728.7,1434.1 L729.6,1434.1 L730.5,1434.1 L731.4,1434.1 L732.3,1434.1 L733.2,1434.1 L734.1,1434.1 L735.0,1434.1 L735.9,1434.1 L736.8,1434.1 L737.7,1434.1 L738.6,1434.1 L739.5,1434.1 L740.4,1434.1 L741.3,1434.1 L742.2,1434.1 L743.1,1434.1 L744.0,1434.1 L745.0,1434.1 L745.9,1434.1 L746.8,1434.1 L747.7,1434.1 L748.6,1434.1 L749.5,1434.1 L750.4,1434.1 L751.3,1434.1 L752.2,1434.1 L753.1,1434.1 L754.0,1434.1 L754.9,1434.1 L755.8,1434.1 L756.7,1434.1 L757.6,1434.1 L758.5,1434.1 L759.4,1434.1 L760.3,1434.1 L761.2,1434.1 L762.2,1434.1 L763.1,1434.1 L764.0,1434.1 L764.9,1434.1 L765.8,1434.1 L766.7,1434.1 L767.6,1434.1 L768.5,1434.1 L769.4,1434.1 L770.3,1434.1 L771.2,1434.1 L772.1,1434.1 L773.0,1434.1 L773.9,1434.1 L774.8,1434.1 L775.7,1434.1 L776.6,1434.1 L777.5,1434.1 L778.5,1434.1 L779.4,1434.1 L780.3,1434.1 L781.2,1434.1 L782.1,1434.1 L783.0,1434.1 L783.9,1434.1 L784.8,1434.1 L785.7,1434.1 L786.6,1434.1 L787.5,1434.1 L788.4,1434.1 L789.3,1434.1 L790.2,1434.1 L791.1,1434.1 L792.0,1434.1 L792.9,1434.1 L793.8,1434.1 L794.8,1434.1 L795.7,1434.1 L796.6,1434.1 L797.5,1434.1 L798.4,1434.1 L799.3,1434.1 L800.2,1434.1 L801.1,1434.1 L802.0,1434.1 L802.9,1434.1 L803.8,1434.1 L804.7,1434.1 L805.6,1434.1 L806.5,1434.1 L807.4,1434.1 L808.3,1434.1 L809.2,1434.1 L810.1,1434.1 L811.0,1434.1 L812.0,1434.1 L812.9,1434.1 L813.8,1434.1 L814.7,1434.1 L815.6,1434.1 L816.5,1434.1 L817.4,1434.1 L818.3,1434.1 L819.2,1434.1 L820.1,1434.1 L821.0,1434.1 L821.9,1434.1 L822.8,1434.1 L823.7,1434.1 L824.6,1434.1 L825.5,1434.1 L826.4,1434.1 L827.3,1434.1 L828.3,1434.1 L829.2,1434.1 L830.1,1434.1 L831.0,1434.1 L831.9,1434.1 L832.8,1434.1 L833.7,1434.1 L834.6,1434.1 L835.5,1434.1 L836.4,1434.1 L837.3,1434.1 L838.2,1434.1 L839.1,1434.1 L840.0,1434.1 L840.9,1434.1 L841.8,1434.1 L842.7,1434.1 L843.6,1434.1 L844.6,1434.1 L845.5,1434.1 L846.4,1434.1 L847.3,1434.1 L848.2,1434.1 L849.1,1434.1 L850.0,1434.1 L850.9,1434.1 L851.8,1434.1 L852.7,1434.1 L853.6,1434.1 L854.5,1434.1 L855.4,1434.1 L856.3,1434.1 L857.2,1434.1 L858.1,1434.1 L859.0,1434.1 L859.9,1434.1 L860.8,1434.1 L861.8,1434.1 L862.7,1434.1 L863.6,1434.1 L864.5,1434.1 L865.4,1434.1 L866.3,1434.1 L867.2,1434.1 L868.1,1434.1 L869.0,1434.1 L869.9,1434.1 L870.8,1434.1 L871.7,1434.1 L872.6,1434.1 L873.5,1434.1 L874.4,1434.1 L875.3,1434.1 L876.2,1434.1 L877.1,1434.1 L878.1,1434.1 L879.0,1434.1 L879.9,1434.1 L880.8,1434.1 L881.7,1434.1 L882.6,1434.1 L883.5,1434.1 L884.4,1434.1 L885.3,1434.1 L886.2,1434.1 L887.1,1434.1 L888.0,1434.1 L888.9,1434.1 L889.8,1434.1 L890.7,1434.1 L891.6,1434.1 L892.5,1434.1 L893.4,1434.1 L894.4,1434.1 L895.3,1434.1 L896.2,1434.1 L897.1,1434.1 L898.0,1434.1 L898.9,1434.1 L899.8,1434.1 L900.7,1434.1 L901.6,1434.1 L902.5,1434.1"/>
</g>
<path class="m" stroke-width="3.00" d="M461.00,1244.50 L471.50,1264.50 L450.50,1264.50 Z"/>
<path class="m" stroke-width="3.00" d="M461.50,1356.00 L471.75,1375.00 L451.25,1375.00 Z"/>
<rect class="m" stroke="none" x="520.15" y="1409.25" width="16.50" height="16.50"/>
<rect class="m" stroke="none" x="529.75" y="1458.15" width="16.50" height="16.50"/>
<circle class="m" stroke="none" cx="508.00" cy="1496.40" r="6.70"/>
<g transform="translate(55.6 934.0) scale(0.9785)">
<path class="m" stroke-width="4.00" d="M710.00,224.00 L722.50,246.00 L697.50,246.00 Z"/>
<rect class="m" stroke="none" x="693.10" y="294.20" width="28.60" height="28.60"/>
<circle class="m" stroke="none" cx="706.00" cy="375.00" r="14.50"/>
<text class="b" x="759.45" y="248.51" font-size="38.77" textLength="14.36" lengthAdjust="spacingAndGlyphs">f</text>
<text x="775.70" y="248.70" font-size="24.78" textLength="21.27" lengthAdjust="spacingAndGlyphs" stroke="#1a1a1a" stroke-width="0.40" stroke-linejoin="round">W</text>
<text class="b" x="762.70" y="322.21" font-size="38.90" textLength="13.32" lengthAdjust="spacingAndGlyphs">f</text>
<text class="b" x="776.23" y="322.50" font-size="30.42" textLength="51.05" lengthAdjust="spacingAndGlyphs">D-C</text>
<text class="b" x="763.95" y="387.21" font-size="38.63" textLength="14.36" lengthAdjust="spacingAndGlyphs">f</text>
<text x="778.05" y="387.26" font-size="28.49" textLength="53.38" lengthAdjust="spacingAndGlyphs" stroke="#1a1a1a" stroke-width="0.70" stroke-linejoin="round">min</text>
</g>
<text class="b" x="38.55" y="1147.77" font-size="32.96" textLength="38.91" lengthAdjust="spacingAndGlyphs">90</text>
<text class="b" x="56.24" y="1740.87" font-size="33.38" textLength="20.07" lengthAdjust="spacingAndGlyphs">0</text>
<text class="b" x="61.29" y="1513.91" transform="rotate(-90 61.29 1513.91)" font-size="36.81" textLength="211.99" lengthAdjust="spacingAndGlyphs">-phase angle</text>
<text class="s b" x="62.37" y="1291.21" transform="rotate(-90 62.37 1291.21)" font-size="38.23" textLength="25.07" lengthAdjust="spacingAndGlyphs">&#981;</text>
<text class="s b" x="386.01" y="1773.90" font-size="36.72" textLength="162.98" lengthAdjust="spacingAndGlyphs">frequency</text>
<text class="s b" x="568.00" y="1773.68" font-size="36.92" textLength="50.80" lengthAdjust="spacingAndGlyphs">log</text>
<text class="s" x="617.63" y="1773.22" font-size="18.37" textLength="23.18" lengthAdjust="spacingAndGlyphs">10</text>
<line x1="385.6" y1="1808.3" x2="607" y2="1808.3" stroke="#1a1a1a" stroke-width="4.1"/>
<path d="M604.5,1799.5 L633.8,1807 L633.8,1809.6 L604.5,1817.4 Z" fill="#1a1a1a"/>
<text class="b" x="424.03" y="1851.60" font-size="30.90" textLength="166.97" lengthAdjust="spacingAndGlyphs">Increasing</text>
<text class="b" x="-0.67" y="1781.12" font-size="47.06" textLength="46.01" lengthAdjust="spacingAndGlyphs">b)</text>
</svg></body></html>
